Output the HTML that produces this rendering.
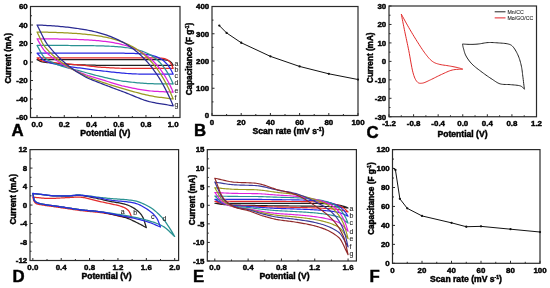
<!DOCTYPE html>
<html><head><meta charset="utf-8"><style>
html,body{margin:0;padding:0;background:#fff;width:550px;height:288px;overflow:hidden}
svg{display:block;filter:blur(0.3px)}
</style></head><body>
<svg width="550" height="288" viewBox="0 0 550 288">
<rect width="550" height="288" fill="#fff"/>
<rect x="30.50" y="6.50" width="149.50" height="111.00" fill="none" stroke="#2a2a2a" stroke-width="1.2"/>
<path d="M37.04 117.50v-2.5 M64.27 117.50v-2.5 M91.50 117.50v-2.5 M118.73 117.50v-2.5 M145.96 117.50v-2.5 M173.19 117.50v-2.5 M50.65 117.50v-1.5 M77.88 117.50v-1.5 M105.11 117.50v-1.5 M132.35 117.50v-1.5 M159.58 117.50v-1.5 M30.50 117.50h2.5 M30.50 99.00h2.5 M30.50 80.50h2.5 M30.50 62.00h2.5 M30.50 43.50h2.5 M30.50 25.00h2.5 M30.50 6.50h2.5 M30.50 108.25h1.5 M30.50 89.75h1.5 M30.50 71.25h1.5 M30.50 52.75h1.5 M30.50 34.25h1.5 M30.50 15.75h1.5" stroke="#2a2a2a" stroke-width="1" fill="none"/>
<text x="37.04" y="127.33" font-size="7.9" text-anchor="middle" font-weight="bold" font-family="Liberation Sans, sans-serif" stroke="#000" stroke-width="0.45">0.0</text>
<text x="64.27" y="127.33" font-size="7.9" text-anchor="middle" font-weight="bold" font-family="Liberation Sans, sans-serif" stroke="#000" stroke-width="0.45">0.2</text>
<text x="91.50" y="127.33" font-size="7.9" text-anchor="middle" font-weight="bold" font-family="Liberation Sans, sans-serif" stroke="#000" stroke-width="0.45">0.4</text>
<text x="118.73" y="127.33" font-size="7.9" text-anchor="middle" font-weight="bold" font-family="Liberation Sans, sans-serif" stroke="#000" stroke-width="0.45">0.6</text>
<text x="145.96" y="127.33" font-size="7.9" text-anchor="middle" font-weight="bold" font-family="Liberation Sans, sans-serif" stroke="#000" stroke-width="0.45">0.8</text>
<text x="173.19" y="127.33" font-size="7.9" text-anchor="middle" font-weight="bold" font-family="Liberation Sans, sans-serif" stroke="#000" stroke-width="0.45">1.0</text>
<text x="27.70" y="120.33" font-size="7.9" text-anchor="end" font-weight="bold" font-family="Liberation Sans, sans-serif" stroke="#000" stroke-width="0.45">-60</text>
<text x="27.70" y="101.83" font-size="7.9" text-anchor="end" font-weight="bold" font-family="Liberation Sans, sans-serif" stroke="#000" stroke-width="0.45">-40</text>
<text x="27.70" y="83.33" font-size="7.9" text-anchor="end" font-weight="bold" font-family="Liberation Sans, sans-serif" stroke="#000" stroke-width="0.45">-20</text>
<text x="27.70" y="64.83" font-size="7.9" text-anchor="end" font-weight="bold" font-family="Liberation Sans, sans-serif" stroke="#000" stroke-width="0.45">0</text>
<text x="27.70" y="46.33" font-size="7.9" text-anchor="end" font-weight="bold" font-family="Liberation Sans, sans-serif" stroke="#000" stroke-width="0.45">20</text>
<text x="27.70" y="27.83" font-size="7.9" text-anchor="end" font-weight="bold" font-family="Liberation Sans, sans-serif" stroke="#000" stroke-width="0.45">40</text>
<text x="27.70" y="9.33" font-size="7.9" text-anchor="end" font-weight="bold" font-family="Liberation Sans, sans-serif" stroke="#000" stroke-width="0.45">60</text>
<path d="M37.04 59.59 L38.74 59.59 L40.44 59.59 L42.14 59.59 L43.84 59.59 L45.55 59.59 L47.25 59.59 L48.95 59.59 L50.65 59.59 L52.35 59.59 L54.06 59.59 L55.76 59.59 L57.46 59.59 L59.16 59.59 L60.86 59.59 L62.56 59.59 L64.27 59.59 L65.97 59.59 L67.67 59.59 L69.37 59.59 L71.07 59.59 L72.78 59.59 L74.48 59.59 L76.18 59.60 L77.88 59.60 L79.58 59.60 L81.29 59.60 L82.99 59.60 L84.69 59.60 L86.39 59.60 L88.09 59.60 L89.80 59.60 L91.50 59.60 L93.20 59.60 L94.90 59.60 L96.60 59.60 L98.31 59.60 L100.01 59.60 L101.71 59.60 L103.41 59.60 L105.11 59.60 L106.82 59.60 L108.52 59.60 L110.22 59.60 L111.92 59.60 L113.62 59.60 L115.33 59.60 L117.03 59.60 L118.73 59.60 L120.43 59.60 L122.13 59.60 L123.84 59.60 L125.54 59.60 L127.24 59.60 L128.94 59.60 L130.64 59.60 L132.35 59.60 L134.05 59.60 L135.75 59.60 L137.45 59.60 L139.15 59.60 L140.85 59.60 L142.56 59.60 L144.26 59.60 L145.96 59.60 L147.66 59.60 L149.36 59.60 L151.07 59.60 L152.77 59.60 L154.47 59.60 L156.17 59.61 L157.87 59.62 L159.58 59.63 L161.28 59.67 L162.98 59.73 L164.68 59.85 L166.38 60.07 L168.09 60.47 L169.79 61.24 L171.49 62.66 L173.19 65.33 L171.49 65.33 L169.79 65.33 L168.09 65.33 L166.38 65.33 L164.68 65.33 L162.98 65.33 L161.28 65.33 L159.58 65.33 L157.87 65.33 L156.17 65.33 L154.47 65.33 L152.77 65.33 L151.07 65.33 L149.36 65.33 L147.66 65.33 L145.96 65.33 L144.26 65.33 L142.56 65.33 L140.85 65.33 L139.15 65.33 L137.45 65.33 L135.75 65.33 L134.05 65.33 L132.35 65.33 L130.64 65.33 L128.94 65.33 L127.24 65.33 L125.54 65.33 L123.84 65.33 L122.13 65.33 L120.43 65.33 L118.73 65.33 L117.03 65.33 L115.33 65.33 L113.62 65.33 L111.92 65.33 L110.22 65.33 L108.52 65.33 L106.82 65.33 L105.11 65.33 L103.41 65.33 L101.71 65.32 L100.01 65.30 L98.31 65.28 L96.60 65.26 L94.90 65.23 L93.20 65.20 L91.50 65.16 L89.80 65.12 L88.09 65.08 L86.39 65.03 L84.69 64.98 L82.99 64.93 L81.29 64.88 L79.58 64.83 L77.88 64.78 L76.18 64.72 L74.48 64.65 L72.78 64.58 L71.07 64.49 L69.37 64.40 L67.67 64.30 L65.97 64.19 L64.27 64.08 L62.56 63.96 L60.86 63.83 L59.16 63.69 L57.46 63.55 L55.76 63.40 L54.06 63.25 L52.35 63.09 L50.65 62.93 L48.95 62.75 L47.25 62.57 L45.55 62.35 L43.84 62.09 L42.14 61.77 L40.44 61.33 L38.74 60.50 L37.04 59.59Z" stroke="#222222" stroke-width="1.25" fill="none" stroke-linejoin="round"/>
<path d="M37.04 57.84 L38.74 57.84 L40.44 57.84 L42.14 57.84 L43.84 57.84 L45.55 57.84 L47.25 57.84 L48.95 57.84 L50.65 57.84 L52.35 57.84 L54.06 57.84 L55.76 57.84 L57.46 57.84 L59.16 57.84 L60.86 57.84 L62.56 57.84 L64.27 57.84 L65.97 57.84 L67.67 57.84 L69.37 57.84 L71.07 57.84 L72.78 57.84 L74.48 57.84 L76.18 57.84 L77.88 57.84 L79.58 57.84 L81.29 57.84 L82.99 57.84 L84.69 57.84 L86.39 57.84 L88.09 57.84 L89.80 57.84 L91.50 57.84 L93.20 57.84 L94.90 57.84 L96.60 57.84 L98.31 57.84 L100.01 57.84 L101.71 57.84 L103.41 57.84 L105.11 57.84 L106.82 57.84 L108.52 57.84 L110.22 57.84 L111.92 57.84 L113.62 57.84 L115.33 57.84 L117.03 57.84 L118.73 57.84 L120.43 57.84 L122.13 57.84 L123.84 57.84 L125.54 57.84 L127.24 57.84 L128.94 57.84 L130.64 57.84 L132.35 57.84 L134.05 57.84 L135.75 57.84 L137.45 57.84 L139.15 57.84 L140.85 57.84 L142.56 57.84 L144.26 57.84 L145.96 57.84 L147.66 57.84 L149.36 57.85 L151.07 57.85 L152.77 57.86 L154.47 57.88 L156.17 57.91 L157.87 57.96 L159.58 58.03 L161.28 58.16 L162.98 58.37 L164.68 58.71 L166.38 59.28 L168.09 60.21 L169.79 61.75 L171.49 64.29 L173.19 68.47 L171.49 68.47 L169.79 68.47 L168.09 68.47 L166.38 68.47 L164.68 68.47 L162.98 68.47 L161.28 68.47 L159.58 68.47 L157.87 68.47 L156.17 68.47 L154.47 68.47 L152.77 68.47 L151.07 68.47 L149.36 68.47 L147.66 68.47 L145.96 68.47 L144.26 68.47 L142.56 68.47 L140.85 68.47 L139.15 68.47 L137.45 68.47 L135.75 68.47 L134.05 68.47 L132.35 68.47 L130.64 68.47 L128.94 68.45 L127.24 68.43 L125.54 68.40 L123.84 68.36 L122.13 68.31 L120.43 68.25 L118.73 68.19 L117.03 68.12 L115.33 68.04 L113.62 67.96 L111.92 67.87 L110.22 67.78 L108.52 67.69 L106.82 67.59 L105.11 67.49 L103.41 67.39 L101.71 67.28 L100.01 67.18 L98.31 67.05 L96.60 66.89 L94.90 66.70 L93.20 66.50 L91.50 66.29 L89.80 66.07 L88.09 65.86 L86.39 65.65 L84.69 65.47 L82.99 65.30 L81.29 65.14 L79.58 64.99 L77.88 64.84 L76.18 64.69 L74.48 64.55 L72.78 64.41 L71.07 64.27 L69.37 64.13 L67.67 63.99 L65.97 63.85 L64.27 63.71 L62.56 63.55 L60.86 63.40 L59.16 63.23 L57.46 63.06 L55.76 62.88 L54.06 62.69 L52.35 62.49 L50.65 62.28 L48.95 62.06 L47.25 61.85 L45.55 61.60 L43.84 61.29 L42.14 60.90 L40.44 60.33 L38.74 59.15 L37.04 57.84Z" stroke="#e42a2a" stroke-width="1.25" fill="none" stroke-linejoin="round"/>
<path d="M37.04 53.12 L38.74 53.12 L40.44 53.12 L42.14 53.12 L43.84 53.12 L45.55 53.12 L47.25 53.12 L48.95 53.12 L50.65 53.12 L52.35 53.12 L54.06 53.12 L55.76 53.12 L57.46 53.12 L59.16 53.12 L60.86 53.12 L62.56 53.12 L64.27 53.12 L65.97 53.12 L67.67 53.12 L69.37 53.12 L71.07 53.12 L72.78 53.12 L74.48 53.12 L76.18 53.12 L77.88 53.12 L79.58 53.12 L81.29 53.12 L82.99 53.12 L84.69 53.12 L86.39 53.12 L88.09 53.12 L89.80 53.12 L91.50 53.12 L93.20 53.12 L94.90 53.13 L96.60 53.13 L98.31 53.13 L100.01 53.13 L101.71 53.13 L103.41 53.13 L105.11 53.14 L106.82 53.14 L108.52 53.14 L110.22 53.15 L111.92 53.15 L113.62 53.16 L115.33 53.17 L117.03 53.18 L118.73 53.19 L120.43 53.20 L122.13 53.22 L123.84 53.24 L125.54 53.26 L127.24 53.29 L128.94 53.32 L130.64 53.36 L132.35 53.41 L134.05 53.47 L135.75 53.53 L137.45 53.62 L139.15 53.71 L140.85 53.83 L142.56 53.97 L144.26 54.13 L145.96 54.33 L147.66 54.57 L149.36 54.85 L151.07 55.19 L152.77 55.59 L154.47 56.08 L156.17 56.66 L157.87 57.35 L159.58 58.17 L161.28 59.16 L162.98 60.34 L164.68 61.76 L166.38 63.44 L168.09 65.46 L169.79 67.88 L171.49 70.76 L173.19 74.21 L171.49 74.20 L169.79 74.19 L168.09 74.19 L166.38 74.18 L164.68 74.17 L162.98 74.16 L161.28 74.16 L159.58 74.15 L157.87 74.14 L156.17 74.14 L154.47 74.13 L152.77 74.12 L151.07 74.11 L149.36 74.10 L147.66 74.09 L145.96 74.08 L144.26 74.07 L142.56 74.06 L140.85 74.04 L139.15 74.03 L137.45 74.00 L135.75 73.95 L134.05 73.89 L132.35 73.81 L130.64 73.72 L128.94 73.62 L127.24 73.50 L125.54 73.36 L123.84 73.22 L122.13 73.07 L120.43 72.91 L118.73 72.74 L117.03 72.57 L115.33 72.39 L113.62 72.20 L111.92 72.01 L110.22 71.82 L108.52 71.63 L106.82 71.44 L105.11 71.25 L103.41 71.06 L101.71 70.87 L100.01 70.69 L98.31 70.50 L96.60 70.31 L94.90 70.10 L93.20 69.89 L91.50 69.66 L89.80 69.43 L88.09 69.19 L86.39 68.95 L84.69 68.69 L82.99 68.44 L81.29 68.21 L79.58 67.98 L77.88 67.76 L76.18 67.54 L74.48 67.32 L72.78 67.10 L71.07 66.88 L69.37 66.65 L67.67 66.41 L65.97 66.15 L64.27 65.88 L62.56 65.60 L60.86 65.29 L59.16 64.96 L57.46 64.60 L55.76 64.22 L54.06 63.80 L52.35 63.35 L50.65 62.87 L48.95 62.34 L47.25 61.77 L45.55 61.16 L43.84 60.31 L42.14 58.82 L40.44 56.95 L38.74 54.96 L37.04 53.12Z" stroke="#2a2ae2" stroke-width="1.25" fill="none" stroke-linejoin="round"/>
<path d="M37.04 45.44 L38.74 45.44 L40.44 45.44 L42.14 45.45 L43.84 45.45 L45.55 45.45 L47.25 45.45 L48.95 45.45 L50.65 45.45 L52.35 45.46 L54.06 45.46 L55.76 45.46 L57.46 45.47 L59.16 45.47 L60.86 45.47 L62.56 45.48 L64.27 45.48 L65.97 45.49 L67.67 45.49 L69.37 45.50 L71.07 45.51 L72.78 45.52 L74.48 45.52 L76.18 45.54 L77.88 45.55 L79.58 45.56 L81.29 45.57 L82.99 45.59 L84.69 45.60 L86.39 45.62 L88.09 45.64 L89.80 45.67 L91.50 45.69 L93.20 45.72 L94.90 45.75 L96.60 45.79 L98.31 45.83 L100.01 45.87 L101.71 45.92 L103.41 45.97 L105.11 46.03 L106.82 46.10 L108.52 46.17 L110.22 46.25 L111.92 46.34 L113.62 46.44 L115.33 46.55 L117.03 46.67 L118.73 46.81 L120.43 46.96 L122.13 47.13 L123.84 47.31 L125.54 47.52 L127.24 47.75 L128.94 48.00 L130.64 48.29 L132.35 48.60 L134.05 48.95 L135.75 49.33 L137.45 49.76 L139.15 50.24 L140.85 50.76 L142.56 51.35 L144.26 52.00 L145.96 52.72 L147.66 53.52 L149.36 54.41 L151.07 55.39 L152.77 56.49 L154.47 57.70 L156.17 59.05 L157.87 60.54 L159.58 62.20 L161.28 64.04 L162.98 66.08 L164.68 68.35 L166.38 70.87 L168.09 73.66 L169.79 76.76 L171.49 80.20 L173.19 84.02 L171.49 83.99 L169.79 83.97 L168.09 83.95 L166.38 83.94 L164.68 83.92 L162.98 83.90 L161.28 83.88 L159.58 83.86 L157.87 83.83 L156.17 83.80 L154.47 83.77 L152.77 83.74 L151.07 83.69 L149.36 83.63 L147.66 83.55 L145.96 83.45 L144.26 83.34 L142.56 83.22 L140.85 83.08 L139.15 82.93 L137.45 82.78 L135.75 82.61 L134.05 82.44 L132.35 82.25 L130.64 82.07 L128.94 81.87 L127.24 81.67 L125.54 81.47 L123.84 81.26 L122.13 81.02 L120.43 80.75 L118.73 80.46 L117.03 80.14 L115.33 79.81 L113.62 79.46 L111.92 79.09 L110.22 78.71 L108.52 78.32 L106.82 77.92 L105.11 77.52 L103.41 77.12 L101.71 76.72 L100.01 76.32 L98.31 75.92 L96.60 75.50 L94.90 75.07 L93.20 74.63 L91.50 74.18 L89.80 73.71 L88.09 73.23 L86.39 72.74 L84.69 72.24 L82.99 71.75 L81.29 71.29 L79.58 70.85 L77.88 70.42 L76.18 70.01 L74.48 69.59 L72.78 69.18 L71.07 68.76 L69.37 68.33 L67.67 67.88 L65.97 67.42 L64.27 66.93 L62.56 66.41 L60.86 65.86 L59.16 65.26 L57.46 64.63 L55.76 63.94 L54.06 63.20 L52.35 62.40 L50.65 61.54 L48.95 60.61 L47.25 59.61 L45.55 58.53 L43.84 57.07 L42.14 54.64 L40.44 51.61 L38.74 48.41 L37.04 45.44Z" stroke="#2a9292" stroke-width="1.25" fill="none" stroke-linejoin="round"/>
<path d="M37.04 38.78 L38.74 38.79 L40.44 38.81 L42.14 38.82 L43.84 38.83 L45.55 38.85 L47.25 38.87 L48.95 38.88 L50.65 38.90 L52.35 38.92 L54.06 38.94 L55.76 38.97 L57.46 38.99 L59.16 39.02 L60.86 39.05 L62.56 39.08 L64.27 39.12 L65.97 39.15 L67.67 39.19 L69.37 39.24 L71.07 39.28 L72.78 39.33 L74.48 39.39 L76.18 39.44 L77.88 39.50 L79.58 39.57 L81.29 39.64 L82.99 39.72 L84.69 39.80 L86.39 39.89 L88.09 39.99 L89.80 40.09 L91.50 40.20 L93.20 40.32 L94.90 40.45 L96.60 40.59 L98.31 40.74 L100.01 40.90 L101.71 41.07 L103.41 41.26 L105.11 41.46 L106.82 41.68 L108.52 41.91 L110.22 42.16 L111.92 42.43 L113.62 42.72 L115.33 43.03 L117.03 43.36 L118.73 43.72 L120.43 44.11 L122.13 44.53 L123.84 44.98 L125.54 45.46 L127.24 45.98 L128.94 46.54 L130.64 47.15 L132.35 47.80 L134.05 48.50 L135.75 49.25 L137.45 50.06 L139.15 50.93 L140.85 51.87 L142.56 52.88 L144.26 53.97 L145.96 55.14 L147.66 56.40 L149.36 57.75 L151.07 59.21 L152.77 60.78 L154.47 62.47 L156.17 64.29 L157.87 66.25 L159.58 68.35 L161.28 70.62 L162.98 73.06 L164.68 75.69 L166.38 78.52 L168.09 81.56 L169.79 84.84 L171.49 88.36 L173.19 92.16 L171.49 92.07 L169.79 92.00 L168.09 91.92 L166.38 91.85 L164.68 91.78 L162.98 91.71 L161.28 91.63 L159.58 91.55 L157.87 91.46 L156.17 91.37 L154.47 91.26 L152.77 91.14 L151.07 91.00 L149.36 90.83 L147.66 90.63 L145.96 90.42 L144.26 90.18 L142.56 89.92 L140.85 89.64 L139.15 89.34 L137.45 89.04 L135.75 88.71 L134.05 88.38 L132.35 88.04 L130.64 87.68 L128.94 87.33 L127.24 86.96 L125.54 86.60 L123.84 86.22 L122.13 85.82 L120.43 85.38 L118.73 84.92 L117.03 84.43 L115.33 83.93 L113.62 83.41 L111.92 82.87 L110.22 82.33 L108.52 81.78 L106.82 81.24 L105.11 80.69 L103.41 80.15 L101.71 79.61 L100.01 79.09 L98.31 78.59 L96.60 78.10 L94.90 77.62 L93.20 77.13 L91.50 76.63 L89.80 76.11 L88.09 75.56 L86.39 74.97 L84.69 74.33 L82.99 73.67 L81.29 73.00 L79.58 72.32 L77.88 71.63 L76.18 70.92 L74.48 70.19 L72.78 69.44 L71.07 68.66 L69.37 67.85 L67.67 67.00 L65.97 66.13 L64.27 65.21 L62.56 64.25 L60.86 63.25 L59.16 62.20 L57.46 61.10 L55.76 59.94 L54.06 58.73 L52.35 57.46 L50.65 56.13 L48.95 54.73 L47.25 53.26 L45.55 51.72 L43.84 49.91 L42.14 47.45 L40.44 44.58 L38.74 41.60 L37.04 38.78Z" stroke="#dd22dd" stroke-width="1.25" fill="none" stroke-linejoin="round"/>
<path d="M37.04 32.03 L38.74 32.06 L40.44 32.09 L42.14 32.12 L43.84 32.16 L45.55 32.20 L47.25 32.24 L48.95 32.28 L50.65 32.32 L52.35 32.37 L54.06 32.42 L55.76 32.48 L57.46 32.54 L59.16 32.60 L60.86 32.67 L62.56 32.74 L64.27 32.81 L65.97 32.89 L67.67 32.98 L69.37 33.07 L71.07 33.16 L72.78 33.26 L74.48 33.37 L76.18 33.49 L77.88 33.61 L79.58 33.74 L81.29 33.88 L82.99 34.03 L84.69 34.19 L86.39 34.36 L88.09 34.54 L89.80 34.73 L91.50 34.93 L93.20 35.15 L94.90 35.38 L96.60 35.62 L98.31 35.89 L100.01 36.16 L101.71 36.46 L103.41 36.77 L105.11 37.11 L106.82 37.47 L108.52 37.85 L110.22 38.25 L111.92 38.68 L113.62 39.14 L115.33 39.63 L117.03 40.15 L118.73 40.70 L120.43 41.29 L122.13 41.92 L123.84 42.58 L125.54 43.29 L127.24 44.05 L128.94 44.85 L130.64 45.71 L132.35 46.62 L134.05 47.59 L135.75 48.62 L137.45 49.72 L139.15 50.89 L140.85 52.14 L142.56 53.47 L144.26 54.88 L145.96 56.38 L147.66 57.98 L149.36 59.68 L151.07 61.50 L152.77 63.42 L154.47 65.48 L156.17 67.67 L157.87 69.99 L159.58 72.47 L161.28 75.11 L162.98 77.92 L164.68 80.90 L166.38 84.09 L168.09 87.47 L169.79 91.08 L171.49 94.91 L173.19 99.00 L171.49 98.77 L169.79 98.56 L168.09 98.34 L166.38 98.13 L164.68 97.92 L162.98 97.71 L161.28 97.49 L159.58 97.26 L157.87 97.03 L156.17 96.78 L154.47 96.51 L152.77 96.22 L151.07 95.92 L149.36 95.58 L147.66 95.23 L145.96 94.85 L144.26 94.46 L142.56 94.04 L140.85 93.62 L139.15 93.18 L137.45 92.72 L135.75 92.26 L134.05 91.79 L132.35 91.32 L130.64 90.84 L128.94 90.36 L127.24 89.88 L125.54 89.40 L123.84 88.92 L122.13 88.44 L120.43 87.94 L118.73 87.44 L117.03 86.93 L115.33 86.42 L113.62 85.89 L111.92 85.36 L110.22 84.81 L108.52 84.27 L106.82 83.71 L105.11 83.14 L103.41 82.57 L101.71 81.99 L100.01 81.40 L98.31 80.81 L96.60 80.23 L94.90 79.63 L93.20 79.02 L91.50 78.39 L89.80 77.73 L88.09 77.03 L86.39 76.29 L84.69 75.50 L82.99 74.68 L81.29 73.85 L79.58 73.01 L77.88 72.15 L76.18 71.27 L74.48 70.37 L72.78 69.43 L71.07 68.47 L69.37 67.47 L67.67 66.43 L65.97 65.34 L64.27 64.21 L62.56 63.03 L60.86 61.80 L59.16 60.51 L57.46 59.15 L55.76 57.73 L54.06 56.25 L52.35 54.69 L50.65 53.05 L48.95 51.34 L47.25 49.54 L45.55 47.65 L43.84 45.45 L42.14 42.47 L40.44 39.02 L38.74 35.43 L37.04 32.03Z" stroke="#9a9a20" stroke-width="1.25" fill="none" stroke-linejoin="round"/>
<path d="M37.04 25.00 L38.74 25.08 L40.44 25.16 L42.14 25.24 L43.84 25.33 L45.55 25.43 L47.25 25.53 L48.95 25.63 L50.65 25.74 L52.35 25.86 L54.06 25.98 L55.76 26.11 L57.46 26.24 L59.16 26.38 L60.86 26.53 L62.56 26.68 L64.27 26.85 L65.97 27.02 L67.67 27.20 L69.37 27.39 L71.07 27.59 L72.78 27.80 L74.48 28.02 L76.18 28.26 L77.88 28.50 L79.58 28.76 L81.29 29.03 L82.99 29.31 L84.69 29.61 L86.39 29.92 L88.09 30.25 L89.80 30.60 L91.50 30.96 L93.20 31.35 L94.90 31.75 L96.60 32.17 L98.31 32.62 L100.01 33.08 L101.71 33.58 L103.41 34.09 L105.11 34.64 L106.82 35.21 L108.52 35.81 L110.22 36.44 L111.92 37.10 L113.62 37.80 L115.33 38.54 L117.03 39.31 L118.73 40.12 L120.43 40.97 L122.13 41.87 L123.84 42.81 L125.54 43.80 L127.24 44.84 L128.94 45.94 L130.64 47.09 L132.35 48.30 L134.05 49.57 L135.75 50.90 L137.45 52.31 L139.15 53.79 L140.85 55.34 L142.56 56.97 L144.26 58.69 L145.96 60.50 L147.66 62.39 L149.36 64.39 L151.07 66.48 L152.77 68.69 L154.47 71.01 L156.17 73.44 L157.87 76.00 L159.58 78.69 L161.28 81.53 L162.98 84.50 L164.68 87.63 L166.38 90.92 L168.09 94.37 L169.79 98.01 L171.49 101.83 L173.19 105.84 L171.49 105.55 L169.79 105.27 L168.09 105.00 L166.38 104.74 L164.68 104.47 L162.98 104.20 L161.28 103.93 L159.58 103.65 L157.87 103.36 L156.17 103.06 L154.47 102.73 L152.77 102.38 L151.07 102.01 L149.36 101.61 L147.66 101.15 L145.96 100.64 L144.26 100.09 L142.56 99.49 L140.85 98.86 L139.15 98.20 L137.45 97.53 L135.75 96.83 L134.05 96.13 L132.35 95.42 L130.64 94.71 L128.94 94.02 L127.24 93.34 L125.54 92.68 L123.84 92.04 L122.13 91.40 L120.43 90.77 L118.73 90.13 L117.03 89.50 L115.33 88.86 L113.62 88.22 L111.92 87.58 L110.22 86.94 L108.52 86.29 L106.82 85.64 L105.11 84.98 L103.41 84.32 L101.71 83.65 L100.01 82.97 L98.31 82.30 L96.60 81.65 L94.90 81.00 L93.20 80.35 L91.50 79.67 L89.80 78.96 L88.09 78.20 L86.39 77.38 L84.69 76.49 L82.99 75.55 L81.29 74.57 L79.58 73.55 L77.88 72.50 L76.18 71.40 L74.48 70.25 L72.78 69.06 L71.07 67.82 L69.37 66.53 L67.67 65.18 L65.97 63.79 L64.27 62.33 L62.56 60.82 L60.86 59.25 L59.16 57.61 L57.46 55.92 L55.76 54.15 L54.06 52.32 L52.35 50.43 L50.65 48.46 L48.95 46.41 L47.25 44.27 L45.55 41.66 L43.84 38.60 L42.14 35.25 L40.44 31.77 L38.74 28.30 L37.04 25.00Z" stroke="#2a2a92" stroke-width="1.25" fill="none" stroke-linejoin="round"/>
<text x="174.50" y="65.86" font-size="7" font-family="Liberation Sans, sans-serif" fill="#222" stroke="#222" stroke-width="0.1">a</text>
<text x="174.50" y="72.36" font-size="7" font-family="Liberation Sans, sans-serif" fill="#222" stroke="#222" stroke-width="0.1">b</text>
<text x="174.50" y="78.26" font-size="7" font-family="Liberation Sans, sans-serif" fill="#222" stroke="#222" stroke-width="0.1">c</text>
<text x="174.50" y="85.26" font-size="7" font-family="Liberation Sans, sans-serif" fill="#222" stroke="#222" stroke-width="0.1">d</text>
<text x="174.50" y="92.95" font-size="7" font-family="Liberation Sans, sans-serif" fill="#222" stroke="#222" stroke-width="0.1">e</text>
<text x="174.50" y="100.45" font-size="7" font-family="Liberation Sans, sans-serif" fill="#222" stroke="#222" stroke-width="0.1">f</text>
<text x="174.50" y="106.95" font-size="7" font-family="Liberation Sans, sans-serif" fill="#222" stroke="#222" stroke-width="0.1">g</text>
<text transform="translate(8.20 58.30) rotate(-90)" x="0" y="2.94" font-size="8.2" text-anchor="middle" font-weight="bold" font-family="Liberation Sans, sans-serif" stroke="#000" stroke-width="0.45">Current (mA)</text>
<text x="105.30" y="135.68" font-size="8.6" text-anchor="middle" font-weight="bold" font-family="Liberation Sans, sans-serif" stroke="#000" stroke-width="0.45">Potential (V)</text>
<text x="11.50" y="136.00" font-size="16.8" font-weight="bold" font-family="Liberation Sans, sans-serif" stroke="#000" stroke-width="0.45">A</text>
<rect x="212.00" y="6.50" width="146.00" height="109.00" fill="none" stroke="#2a2a2a" stroke-width="1.2"/>
<path d="M212.00 115.50v-2.5 M241.20 115.50v-2.5 M270.40 115.50v-2.5 M299.60 115.50v-2.5 M328.80 115.50v-2.5 M358.00 115.50v-2.5 M226.60 115.50v-1.5 M255.80 115.50v-1.5 M285.00 115.50v-1.5 M314.20 115.50v-1.5 M343.40 115.50v-1.5 M212.00 115.50h2.5 M212.00 88.25h2.5 M212.00 61.00h2.5 M212.00 33.75h2.5 M212.00 6.50h2.5 M212.00 101.88h1.5 M212.00 74.62h1.5 M212.00 47.38h1.5 M212.00 20.12h1.5" stroke="#2a2a2a" stroke-width="1" fill="none"/>
<text x="212.00" y="125.33" font-size="7.9" text-anchor="middle" font-weight="bold" font-family="Liberation Sans, sans-serif" stroke="#000" stroke-width="0.45">0</text>
<text x="241.20" y="125.33" font-size="7.9" text-anchor="middle" font-weight="bold" font-family="Liberation Sans, sans-serif" stroke="#000" stroke-width="0.45">20</text>
<text x="270.40" y="125.33" font-size="7.9" text-anchor="middle" font-weight="bold" font-family="Liberation Sans, sans-serif" stroke="#000" stroke-width="0.45">40</text>
<text x="299.60" y="125.33" font-size="7.9" text-anchor="middle" font-weight="bold" font-family="Liberation Sans, sans-serif" stroke="#000" stroke-width="0.45">60</text>
<text x="328.80" y="125.33" font-size="7.9" text-anchor="middle" font-weight="bold" font-family="Liberation Sans, sans-serif" stroke="#000" stroke-width="0.45">80</text>
<text x="358.00" y="125.33" font-size="7.9" text-anchor="middle" font-weight="bold" font-family="Liberation Sans, sans-serif" stroke="#000" stroke-width="0.45">100</text>
<text x="209.20" y="118.33" font-size="7.9" text-anchor="end" font-weight="bold" font-family="Liberation Sans, sans-serif" stroke="#000" stroke-width="0.45">0</text>
<text x="209.20" y="91.08" font-size="7.9" text-anchor="end" font-weight="bold" font-family="Liberation Sans, sans-serif" stroke="#000" stroke-width="0.45">100</text>
<text x="209.20" y="63.83" font-size="7.9" text-anchor="end" font-weight="bold" font-family="Liberation Sans, sans-serif" stroke="#000" stroke-width="0.45">200</text>
<text x="209.20" y="36.58" font-size="7.9" text-anchor="end" font-weight="bold" font-family="Liberation Sans, sans-serif" stroke="#000" stroke-width="0.45">300</text>
<text x="209.20" y="9.33" font-size="7.9" text-anchor="end" font-weight="bold" font-family="Liberation Sans, sans-serif" stroke="#000" stroke-width="0.45">400</text>
<path d="M219.30 25.58 L226.60 32.93 L241.20 42.74 L270.40 56.37 L299.60 66.45 L328.80 73.81 L358.00 79.53" stroke="#111" stroke-width="1.0" fill="none" stroke-linejoin="round"/>
<circle cx="219.30" cy="25.58" r="1.15" fill="#111"/>
<circle cx="226.60" cy="32.93" r="1.15" fill="#111"/>
<circle cx="241.20" cy="42.74" r="1.15" fill="#111"/>
<circle cx="270.40" cy="56.37" r="1.15" fill="#111"/>
<circle cx="299.60" cy="66.45" r="1.15" fill="#111"/>
<circle cx="328.80" cy="73.81" r="1.15" fill="#111"/>
<circle cx="358.00" cy="79.53" r="1.15" fill="#111"/>
<text transform="translate(188.60 59.00) rotate(-90)" x="0" y="2.94" font-size="8.2" text-anchor="middle" font-weight="bold" font-family="Liberation Sans, sans-serif" stroke="#000" stroke-width="0.45">Capacitance (F g<tspan font-size="5" dy="-3">-1</tspan><tspan dy="3">)</tspan></text>
<text x="288.40" y="134.28" font-size="8.6" text-anchor="middle" font-weight="bold" font-family="Liberation Sans, sans-serif" stroke="#000" stroke-width="0.45">Scan rate (mV s<tspan font-size="5" dy="-3">-1</tspan><tspan dy="3">)</tspan></text>
<text x="194.00" y="136.00" font-size="16.8" font-weight="bold" font-family="Liberation Sans, sans-serif" stroke="#000" stroke-width="0.45">B</text>
<rect x="389.00" y="6.00" width="147.50" height="110.75" fill="none" stroke="#2a2a2a" stroke-width="1.2"/>
<path d="M389.00 116.75v-2.5 M413.58 116.75v-2.5 M438.17 116.75v-2.5 M462.75 116.75v-2.5 M487.33 116.75v-2.5 M511.92 116.75v-2.5 M536.50 116.75v-2.5 M401.29 116.75v-1.5 M425.88 116.75v-1.5 M450.46 116.75v-1.5 M475.04 116.75v-1.5 M499.62 116.75v-1.5 M524.21 116.75v-1.5 M389.00 116.75h2.5 M389.00 98.29h2.5 M389.00 79.83h2.5 M389.00 61.38h2.5 M389.00 42.92h2.5 M389.00 24.46h2.5 M389.00 6.00h2.5 M389.00 107.52h1.5 M389.00 89.06h1.5 M389.00 70.60h1.5 M389.00 52.15h1.5 M389.00 33.69h1.5 M389.00 15.23h1.5" stroke="#2a2a2a" stroke-width="1" fill="none"/>
<text x="389.00" y="125.78" font-size="7.9" text-anchor="middle" font-weight="bold" font-family="Liberation Sans, sans-serif" stroke="#000" stroke-width="0.45">-1.2</text>
<text x="413.58" y="125.78" font-size="7.9" text-anchor="middle" font-weight="bold" font-family="Liberation Sans, sans-serif" stroke="#000" stroke-width="0.45">-0.8</text>
<text x="438.17" y="125.78" font-size="7.9" text-anchor="middle" font-weight="bold" font-family="Liberation Sans, sans-serif" stroke="#000" stroke-width="0.45">-0.4</text>
<text x="462.75" y="125.78" font-size="7.9" text-anchor="middle" font-weight="bold" font-family="Liberation Sans, sans-serif" stroke="#000" stroke-width="0.45">0.0</text>
<text x="487.33" y="125.78" font-size="7.9" text-anchor="middle" font-weight="bold" font-family="Liberation Sans, sans-serif" stroke="#000" stroke-width="0.45">0.4</text>
<text x="511.92" y="125.78" font-size="7.9" text-anchor="middle" font-weight="bold" font-family="Liberation Sans, sans-serif" stroke="#000" stroke-width="0.45">0.8</text>
<text x="536.50" y="125.78" font-size="7.9" text-anchor="middle" font-weight="bold" font-family="Liberation Sans, sans-serif" stroke="#000" stroke-width="0.45">1.2</text>
<text x="386.20" y="119.58" font-size="7.9" text-anchor="end" font-weight="bold" font-family="Liberation Sans, sans-serif" stroke="#000" stroke-width="0.45">-30</text>
<text x="386.20" y="101.12" font-size="7.9" text-anchor="end" font-weight="bold" font-family="Liberation Sans, sans-serif" stroke="#000" stroke-width="0.45">-20</text>
<text x="386.20" y="82.66" font-size="7.9" text-anchor="end" font-weight="bold" font-family="Liberation Sans, sans-serif" stroke="#000" stroke-width="0.45">-10</text>
<text x="386.20" y="64.20" font-size="7.9" text-anchor="end" font-weight="bold" font-family="Liberation Sans, sans-serif" stroke="#000" stroke-width="0.45">0</text>
<text x="386.20" y="45.74" font-size="7.9" text-anchor="end" font-weight="bold" font-family="Liberation Sans, sans-serif" stroke="#000" stroke-width="0.45">10</text>
<text x="386.20" y="27.29" font-size="7.9" text-anchor="end" font-weight="bold" font-family="Liberation Sans, sans-serif" stroke="#000" stroke-width="0.45">20</text>
<text x="386.20" y="8.83" font-size="7.9" text-anchor="end" font-weight="bold" font-family="Liberation Sans, sans-serif" stroke="#000" stroke-width="0.45">30</text>
<path d="M401.29 14.12 L401.87 15.16 L402.62 16.54 L403.52 18.18 L404.53 20.01 L405.59 21.94 L406.69 23.90 L407.77 25.81 L408.79 27.60 L409.78 29.30 L410.80 31.03 L411.83 32.77 L412.87 34.51 L413.91 36.23 L414.96 37.94 L416.00 39.62 L417.02 41.26 L418.05 42.88 L419.09 44.51 L420.14 46.13 L421.17 47.73 L422.20 49.27 L423.21 50.75 L424.19 52.15 L425.14 53.44 L426.05 54.64 L426.92 55.76 L427.77 56.81 L428.60 57.79 L429.42 58.70 L430.24 59.53 L431.06 60.30 L431.90 61.01 L432.72 61.62 L433.49 62.13 L434.25 62.56 L435.02 62.93 L435.83 63.26 L436.68 63.55 L437.62 63.84 L438.66 64.14 L439.83 64.44 L441.13 64.70 L442.53 64.94 L443.97 65.16 L445.42 65.37 L446.85 65.57 L448.21 65.78 L449.48 65.99 L450.66 66.21 L451.82 66.42 L452.94 66.63 L454.02 66.84 L455.06 67.05 L456.04 67.25 L456.97 67.45 L457.83 67.65 L458.65 67.85 L459.42 68.07 L460.15 68.28 L460.81 68.49 L461.42 68.69 L461.95 68.87 L462.39 69.01 L462.75 69.13 L461.94 69.17 L460.85 69.21 L459.57 69.25 L458.14 69.31 L456.62 69.41 L455.08 69.55 L453.58 69.76 L452.18 70.05 L450.84 70.43 L449.51 70.89 L448.17 71.41 L446.82 71.99 L445.48 72.60 L444.13 73.23 L442.78 73.86 L441.42 74.48 L440.05 75.12 L438.64 75.80 L437.21 76.51 L435.79 77.23 L434.39 77.93 L433.02 78.62 L431.72 79.26 L430.48 79.83 L429.32 80.38 L428.19 80.92 L427.11 81.44 L426.08 81.92 L425.09 82.35 L424.14 82.71 L423.23 82.98 L422.37 83.16 L421.56 83.26 L420.81 83.31 L420.11 83.30 L419.45 83.21 L418.82 83.03 L418.21 82.72 L417.62 82.28 L417.02 81.68 L416.45 80.97 L415.91 80.17 L415.39 79.27 L414.89 78.23 L414.40 77.04 L413.91 75.66 L413.41 74.08 L412.91 72.27 L412.39 70.13 L411.87 67.66 L411.36 64.95 L410.84 62.07 L410.32 59.11 L409.81 56.17 L409.30 53.33 L408.79 50.67 L408.28 48.16 L407.77 45.70 L407.26 43.29 L406.75 40.91 L406.25 38.56 L405.76 36.25 L405.27 33.95 L404.79 31.66 L404.31 29.27 L403.80 26.76 L403.29 24.20 L402.79 21.70 L402.33 19.35 L401.91 17.24 L401.56 15.46 L401.29 14.12" stroke="#e22a2a" stroke-width="1.0" fill="none" stroke-linejoin="round"/>
<path d="M462.44 44.02 L463.03 44.06 L463.82 44.11 L464.75 44.17 L465.78 44.23 L466.88 44.29 L468.00 44.34 L469.10 44.38 L470.12 44.39 L471.09 44.39 L472.05 44.38 L473.01 44.36 L473.97 44.32 L474.95 44.28 L475.96 44.21 L477.01 44.13 L478.11 44.02 L479.27 43.88 L480.49 43.69 L481.74 43.47 L483.03 43.24 L484.33 43.01 L485.63 42.81 L486.92 42.65 L488.19 42.55 L489.45 42.50 L490.70 42.49 L491.95 42.52 L493.20 42.57 L494.45 42.64 L495.70 42.73 L496.96 42.82 L498.21 42.92 L499.50 43.01 L500.85 43.09 L502.21 43.19 L503.56 43.30 L504.88 43.43 L506.12 43.59 L507.27 43.78 L508.29 44.02 L509.16 44.28 L509.90 44.53 L510.55 44.80 L511.13 45.11 L511.66 45.48 L512.19 45.93 L512.73 46.48 L513.33 47.16 L513.97 47.99 L514.64 48.94 L515.31 50.01 L515.98 51.15 L516.63 52.35 L517.25 53.58 L517.84 54.81 L518.37 56.02 L518.85 57.23 L519.30 58.47 L519.72 59.74 L520.10 61.03 L520.46 62.32 L520.79 63.62 L521.10 64.91 L521.38 66.17 L521.63 67.41 L521.84 68.61 L522.02 69.79 L522.18 70.97 L522.32 72.18 L522.47 73.43 L522.62 74.75 L522.79 76.14 L523.00 77.72 L523.22 79.50 L523.45 81.40 L523.68 83.32 L523.90 85.15 L524.10 86.82 L524.27 88.21 L524.39 89.25 L524.13 88.98 L523.82 88.60 L523.45 88.16 L523.03 87.67 L522.52 87.17 L521.92 86.69 L521.22 86.27 L520.40 85.92 L519.43 85.66 L518.31 85.45 L517.06 85.27 L515.74 85.12 L514.37 84.99 L512.98 84.87 L511.62 84.75 L510.32 84.63 L509.04 84.54 L507.75 84.50 L506.45 84.49 L505.15 84.47 L503.87 84.43 L502.62 84.34 L501.40 84.17 L500.24 83.89 L499.15 83.52 L498.13 83.07 L497.16 82.55 L496.21 81.98 L495.27 81.36 L494.30 80.69 L493.28 80.00 L492.19 79.28 L491.03 78.53 L489.81 77.72 L488.55 76.87 L487.27 75.99 L485.97 75.08 L484.67 74.15 L483.38 73.21 L482.11 72.27 L480.83 71.30 L479.51 70.31 L478.17 69.30 L476.85 68.27 L475.55 67.24 L474.31 66.20 L473.15 65.17 L472.09 64.14 L471.12 63.12 L470.22 62.09 L469.38 61.05 L468.61 60.01 L467.89 58.99 L467.23 57.97 L466.62 56.98 L466.07 56.02 L465.58 55.08 L465.17 54.14 L464.83 53.22 L464.54 52.32 L464.28 51.44 L464.05 50.59 L463.83 49.78 L463.61 49.01 L463.39 48.25 L463.20 47.50 L463.03 46.77 L462.87 46.08 L462.74 45.44 L462.62 44.87 L462.52 44.39 L462.44 44.02" stroke="#222222" stroke-width="1.0" fill="none" stroke-linejoin="round"/>
<path d="M494.7 11.8H505.5" stroke="#222" stroke-width="1"/>
<path d="M494.7 17.9H505.5" stroke="#e3232a" stroke-width="1"/>
<text x="507.50" y="13.78" font-size="5.2" font-family="Liberation Sans, sans-serif" fill="#222" stroke="#222" stroke-width="0.08">Mn/CC</text>
<text x="507.50" y="19.88" font-size="5.2" font-family="Liberation Sans, sans-serif" fill="#222" stroke="#222" stroke-width="0.08">Mo/GO/CC</text>
<text transform="translate(370.50 57.70) rotate(-90)" x="0" y="2.94" font-size="8.2" text-anchor="middle" font-weight="bold" font-family="Liberation Sans, sans-serif" stroke="#000" stroke-width="0.45">Current (mA)</text>
<text x="462.50" y="136.98" font-size="8.6" text-anchor="middle" font-weight="bold" font-family="Liberation Sans, sans-serif" stroke="#000" stroke-width="0.45">Potential (V)</text>
<text x="366.50" y="138.00" font-size="16.8" font-weight="bold" font-family="Liberation Sans, sans-serif" stroke="#000" stroke-width="0.45">C</text>
<rect x="30.00" y="149.60" width="148.60" height="110.90" fill="none" stroke="#2a2a2a" stroke-width="1.2"/>
<path d="M32.84 260.50v-2.5 M61.21 260.50v-2.5 M89.58 260.50v-2.5 M117.95 260.50v-2.5 M146.33 260.50v-2.5 M174.70 260.50v-2.5 M47.02 260.50v-1.5 M75.40 260.50v-1.5 M103.77 260.50v-1.5 M132.14 260.50v-1.5 M160.51 260.50v-1.5 M30.00 260.50h2.5 M30.00 242.02h2.5 M30.00 223.53h2.5 M30.00 205.05h2.5 M30.00 186.57h2.5 M30.00 168.08h2.5 M30.00 149.60h2.5 M30.00 251.26h1.5 M30.00 232.78h1.5 M30.00 214.29h1.5 M30.00 195.81h1.5 M30.00 177.32h1.5 M30.00 158.84h1.5" stroke="#2a2a2a" stroke-width="1" fill="none"/>
<text x="32.84" y="269.83" font-size="7.9" text-anchor="middle" font-weight="bold" font-family="Liberation Sans, sans-serif" stroke="#000" stroke-width="0.45">0.0</text>
<text x="61.21" y="269.83" font-size="7.9" text-anchor="middle" font-weight="bold" font-family="Liberation Sans, sans-serif" stroke="#000" stroke-width="0.45">0.4</text>
<text x="89.58" y="269.83" font-size="7.9" text-anchor="middle" font-weight="bold" font-family="Liberation Sans, sans-serif" stroke="#000" stroke-width="0.45">0.8</text>
<text x="117.95" y="269.83" font-size="7.9" text-anchor="middle" font-weight="bold" font-family="Liberation Sans, sans-serif" stroke="#000" stroke-width="0.45">1.2</text>
<text x="146.33" y="269.83" font-size="7.9" text-anchor="middle" font-weight="bold" font-family="Liberation Sans, sans-serif" stroke="#000" stroke-width="0.45">1.6</text>
<text x="174.70" y="269.83" font-size="7.9" text-anchor="middle" font-weight="bold" font-family="Liberation Sans, sans-serif" stroke="#000" stroke-width="0.45">2.0</text>
<text x="27.20" y="263.33" font-size="7.9" text-anchor="end" font-weight="bold" font-family="Liberation Sans, sans-serif" stroke="#000" stroke-width="0.45">-12</text>
<text x="27.20" y="244.84" font-size="7.9" text-anchor="end" font-weight="bold" font-family="Liberation Sans, sans-serif" stroke="#000" stroke-width="0.45">-8</text>
<text x="27.20" y="226.36" font-size="7.9" text-anchor="end" font-weight="bold" font-family="Liberation Sans, sans-serif" stroke="#000" stroke-width="0.45">-4</text>
<text x="27.20" y="207.88" font-size="7.9" text-anchor="end" font-weight="bold" font-family="Liberation Sans, sans-serif" stroke="#000" stroke-width="0.45">0</text>
<text x="27.20" y="189.39" font-size="7.9" text-anchor="end" font-weight="bold" font-family="Liberation Sans, sans-serif" stroke="#000" stroke-width="0.45">4</text>
<text x="27.20" y="170.91" font-size="7.9" text-anchor="end" font-weight="bold" font-family="Liberation Sans, sans-serif" stroke="#000" stroke-width="0.45">8</text>
<text x="27.20" y="152.43" font-size="7.9" text-anchor="end" font-weight="bold" font-family="Liberation Sans, sans-serif" stroke="#000" stroke-width="0.45">12</text>
<path d="M32.84 197.15 L33.83 197.23 L34.82 197.32 L35.81 197.42 L36.80 197.52 L37.79 197.62 L38.78 197.73 L39.77 197.83 L40.76 197.93 L41.75 198.03 L42.74 198.12 L43.73 198.20 L44.72 198.28 L45.71 198.34 L46.70 198.39 L47.69 198.42 L48.68 198.44 L49.67 198.44 L50.66 198.43 L51.65 198.41 L52.64 198.39 L53.63 198.36 L54.62 198.32 L55.61 198.27 L56.60 198.22 L57.59 198.17 L58.58 198.12 L59.57 198.06 L60.56 198.00 L61.55 197.94 L62.54 197.88 L63.53 197.82 L64.52 197.76 L65.51 197.70 L66.50 197.65 L67.49 197.60 L68.48 197.56 L69.47 197.51 L70.46 197.46 L71.45 197.40 L72.44 197.35 L73.44 197.29 L74.43 197.25 L75.42 197.20 L76.41 197.17 L77.40 197.15 L78.39 197.15 L79.38 197.17 L80.37 197.23 L81.36 197.31 L82.35 197.43 L83.34 197.57 L84.33 197.74 L85.32 197.92 L86.31 198.13 L87.30 198.35 L88.29 198.58 L89.28 198.83 L90.27 199.08 L91.26 199.34 L92.25 199.61 L93.24 199.88 L94.23 200.14 L95.22 200.41 L96.21 200.66 L97.20 200.91 L98.19 201.15 L99.18 201.38 L100.17 201.59 L101.16 201.79 L102.15 202.00 L103.14 202.20 L104.13 202.40 L105.12 202.61 L106.11 202.82 L107.10 203.03 L108.09 203.25 L109.08 203.47 L110.07 203.69 L111.06 203.92 L112.05 204.13 L113.04 204.34 L114.03 204.55 L115.02 204.76 L116.01 204.98 L117.00 205.21 L117.99 205.46 L118.98 205.72 L119.97 206.01 L120.96 206.32 L121.95 206.67 L122.94 207.04 L123.94 207.45 L124.93 207.92 L125.92 208.47 L126.91 209.14 L127.90 209.94 L128.89 210.95 L129.88 212.84 L130.87 215.31 L131.86 217.71 L130.87 217.65 L129.88 217.59 L128.89 217.53 L127.90 217.47 L126.91 217.39 L125.92 217.31 L124.93 217.21 L123.94 217.07 L122.94 216.91 L121.95 216.74 L120.96 216.54 L119.97 216.32 L118.98 216.10 L117.99 215.87 L117.00 215.63 L116.01 215.39 L115.02 215.15 L114.03 214.91 L113.04 214.69 L112.05 214.47 L111.06 214.27 L110.07 214.08 L109.08 213.91 L108.09 213.75 L107.10 213.58 L106.11 213.42 L105.12 213.27 L104.13 213.12 L103.14 212.97 L102.15 212.83 L101.16 212.69 L100.17 212.57 L99.18 212.44 L98.19 212.33 L97.20 212.22 L96.21 212.11 L95.22 212.01 L94.23 211.91 L93.24 211.81 L92.25 211.72 L91.26 211.63 L90.27 211.53 L89.28 211.44 L88.29 211.35 L87.30 211.26 L86.31 211.16 L85.32 211.06 L84.33 210.96 L83.34 210.86 L82.35 210.75 L81.36 210.63 L80.37 210.51 L79.38 210.38 L78.39 210.25 L77.40 210.11 L76.41 209.96 L75.42 209.82 L74.43 209.67 L73.44 209.52 L72.44 209.37 L71.45 209.22 L70.46 209.07 L69.47 208.92 L68.48 208.77 L67.49 208.63 L66.50 208.49 L65.51 208.34 L64.52 208.20 L63.53 208.06 L62.54 207.91 L61.55 207.77 L60.56 207.62 L59.57 207.48 L58.58 207.34 L57.59 207.19 L56.60 207.05 L55.61 206.91 L54.62 206.77 L53.63 206.63 L52.64 206.50 L51.65 206.37 L50.66 206.24 L49.67 206.11 L48.68 205.98 L47.69 205.84 L46.70 205.70 L45.71 205.55 L44.72 205.40 L43.73 205.24 L42.74 205.07 L41.75 204.90 L40.76 204.75 L39.77 204.58 L38.78 204.39 L37.79 204.14 L36.80 203.82 L35.81 203.36 L34.82 202.47 L33.83 200.98 L32.84 197.15Z" stroke="#e42a2a" stroke-width="1.25" fill="none" stroke-linejoin="round"/>
<path d="M32.84 193.50 L33.97 193.63 L35.11 193.77 L36.24 193.91 L37.38 194.04 L38.51 194.18 L39.65 194.31 L40.78 194.45 L41.92 194.58 L43.05 194.70 L44.19 194.83 L45.32 194.98 L46.46 195.12 L47.59 195.27 L48.73 195.41 L49.86 195.54 L51.00 195.67 L52.13 195.77 L53.27 195.86 L54.40 195.92 L55.54 195.95 L56.67 195.96 L57.80 195.98 L58.94 195.99 L60.07 196.00 L61.21 196.01 L62.34 196.02 L63.48 196.03 L64.61 196.03 L65.75 196.04 L66.88 196.04 L68.02 196.04 L69.15 196.02 L70.29 195.97 L71.42 195.88 L72.56 195.77 L73.69 195.65 L74.83 195.53 L75.96 195.44 L77.10 195.37 L78.23 195.35 L79.37 195.38 L80.50 195.46 L81.64 195.58 L82.77 195.74 L83.91 195.91 L85.04 196.10 L86.18 196.30 L87.31 196.48 L88.45 196.66 L89.58 196.86 L90.72 197.07 L91.85 197.29 L92.99 197.53 L94.12 197.77 L95.26 198.01 L96.39 198.26 L97.53 198.52 L98.66 198.77 L99.80 199.01 L100.93 199.26 L102.07 199.51 L103.20 199.77 L104.34 200.04 L105.47 200.30 L106.61 200.56 L107.74 200.82 L108.88 201.08 L110.01 201.32 L111.14 201.55 L112.28 201.77 L113.41 201.97 L114.55 202.16 L115.68 202.35 L116.82 202.54 L117.95 202.74 L119.09 202.93 L120.22 203.14 L121.36 203.37 L122.49 203.61 L123.63 203.88 L124.76 204.17 L125.90 204.49 L127.03 204.86 L128.17 205.27 L129.30 205.74 L130.44 206.27 L131.57 206.84 L132.71 207.46 L133.84 208.14 L134.98 208.87 L136.11 209.65 L137.25 210.50 L138.38 211.47 L139.52 212.59 L140.65 213.92 L141.79 215.48 L142.92 217.32 L144.06 220.22 L145.19 223.97 L146.33 227.69 L145.19 227.07 L144.06 226.44 L142.92 225.80 L141.79 225.17 L140.65 224.55 L139.52 223.94 L138.38 223.35 L137.25 222.79 L136.11 222.23 L134.98 221.67 L133.84 221.11 L132.71 220.57 L131.57 220.03 L130.44 219.52 L129.30 219.03 L128.17 218.57 L127.03 218.15 L125.90 217.76 L124.76 217.40 L123.63 217.06 L122.49 216.74 L121.36 216.44 L120.22 216.15 L119.09 215.87 L117.95 215.60 L116.82 215.34 L115.68 215.09 L114.55 214.84 L113.41 214.59 L112.28 214.35 L111.14 214.10 L110.01 213.85 L108.88 213.59 L107.74 213.33 L106.61 213.06 L105.47 212.80 L104.34 212.55 L103.20 212.32 L102.07 212.10 L100.93 211.90 L99.80 211.73 L98.66 211.58 L97.53 211.44 L96.39 211.31 L95.26 211.19 L94.12 211.08 L92.99 210.97 L91.85 210.87 L90.72 210.78 L89.58 210.68 L88.45 210.58 L87.31 210.49 L86.18 210.38 L85.04 210.28 L83.91 210.17 L82.77 210.05 L81.64 209.92 L80.50 209.79 L79.37 209.64 L78.23 209.48 L77.10 209.32 L75.96 209.15 L74.83 208.97 L73.69 208.80 L72.56 208.62 L71.42 208.44 L70.29 208.26 L69.15 208.09 L68.02 207.92 L66.88 207.75 L65.75 207.58 L64.61 207.41 L63.48 207.24 L62.34 207.08 L61.21 206.91 L60.07 206.74 L58.94 206.57 L57.80 206.40 L56.67 206.23 L55.54 206.07 L54.40 205.90 L53.27 205.75 L52.13 205.60 L51.00 205.46 L49.86 205.32 L48.73 205.17 L47.59 205.01 L46.46 204.85 L45.32 204.67 L44.19 204.47 L43.05 204.26 L41.92 204.03 L40.78 203.79 L39.65 203.51 L38.51 203.17 L37.38 202.75 L36.24 202.20 L35.11 201.43 L33.97 199.86 L32.84 193.50Z" stroke="#222222" stroke-width="1.25" fill="none" stroke-linejoin="round"/>
<path d="M32.84 193.36 L34.26 193.54 L35.67 193.72 L37.09 193.90 L38.51 194.08 L39.93 194.25 L41.35 194.42 L42.77 194.58 L44.19 194.74 L45.60 194.92 L47.02 195.10 L48.44 195.28 L49.86 195.45 L51.28 195.59 L52.70 195.71 L54.12 195.78 L55.54 195.81 L56.95 195.81 L58.37 195.81 L59.79 195.81 L61.21 195.81 L62.63 195.81 L64.05 195.81 L65.47 195.81 L66.88 195.81 L68.30 195.81 L69.72 195.76 L71.14 195.63 L72.56 195.46 L73.98 195.28 L75.40 195.10 L76.81 194.98 L78.23 194.93 L79.65 194.97 L81.07 195.06 L82.49 195.20 L83.91 195.37 L85.33 195.55 L86.74 195.73 L88.16 195.89 L89.58 196.06 L91.00 196.24 L92.42 196.43 L93.84 196.63 L95.26 196.83 L96.67 197.02 L98.09 197.20 L99.51 197.38 L100.93 197.54 L102.35 197.69 L103.77 197.84 L105.19 197.98 L106.61 198.12 L108.02 198.26 L109.44 198.39 L110.86 198.53 L112.28 198.65 L113.70 198.77 L115.12 198.87 L116.54 198.97 L117.95 199.07 L119.37 199.17 L120.79 199.27 L122.21 199.37 L123.63 199.48 L125.05 199.59 L126.47 199.72 L127.88 199.86 L129.30 200.01 L130.72 200.18 L132.14 200.36 L133.56 200.57 L134.98 200.83 L136.40 201.17 L137.81 201.58 L139.23 202.07 L140.65 202.61 L142.07 203.21 L143.49 203.85 L144.91 204.53 L146.33 205.25 L147.75 206.00 L149.16 206.76 L150.58 207.59 L152.00 208.52 L153.42 209.56 L154.84 210.68 L156.26 211.89 L157.68 213.18 L159.09 214.54 L160.51 215.96 L161.93 217.44 L163.35 219.11 L164.77 220.96 L166.19 222.95 L167.61 225.03 L169.02 227.16 L170.44 229.35 L171.86 231.68 L173.28 234.09 L174.70 236.47 L173.28 235.18 L171.86 233.82 L170.44 232.43 L169.02 231.05 L167.61 229.72 L166.19 228.49 L164.77 227.39 L163.35 226.47 L161.93 225.70 L160.51 225.01 L159.09 224.36 L157.68 223.76 L156.26 223.21 L154.84 222.69 L153.42 222.20 L152.00 221.73 L150.58 221.29 L149.16 220.85 L147.75 220.44 L146.33 220.04 L144.91 219.65 L143.49 219.29 L142.07 218.94 L140.65 218.60 L139.23 218.27 L137.81 217.96 L136.40 217.65 L134.98 217.35 L133.56 217.06 L132.14 216.78 L130.72 216.50 L129.30 216.23 L127.88 215.97 L126.47 215.71 L125.05 215.45 L123.63 215.20 L122.21 214.96 L120.79 214.72 L119.37 214.49 L117.95 214.26 L116.54 214.04 L115.12 213.82 L113.70 213.60 L112.28 213.39 L110.86 213.18 L109.44 212.97 L108.02 212.77 L106.61 212.58 L105.19 212.39 L103.77 212.21 L102.35 212.03 L100.93 211.87 L99.51 211.70 L98.09 211.55 L96.67 211.40 L95.26 211.26 L93.84 211.13 L92.42 210.99 L91.00 210.86 L89.58 210.73 L88.16 210.60 L86.74 210.47 L85.33 210.33 L83.91 210.18 L82.49 210.02 L81.07 209.86 L79.65 209.68 L78.23 209.48 L76.81 209.28 L75.40 209.06 L73.98 208.84 L72.56 208.62 L71.14 208.40 L69.72 208.18 L68.30 207.96 L66.88 207.75 L65.47 207.54 L64.05 207.33 L62.63 207.12 L61.21 206.91 L59.79 206.70 L58.37 206.49 L56.95 206.28 L55.54 206.07 L54.12 205.87 L52.70 205.68 L51.28 205.50 L49.86 205.32 L48.44 205.13 L47.02 204.93 L45.60 204.71 L44.19 204.47 L42.77 204.20 L41.35 203.91 L39.93 203.59 L38.51 203.17 L37.09 202.62 L35.67 201.87 L34.26 200.37 L32.84 193.36Z" stroke="#2a9292" stroke-width="1.25" fill="none" stroke-linejoin="round"/>
<path d="M32.84 193.36 L34.11 193.52 L35.39 193.68 L36.67 193.84 L37.94 194.00 L39.22 194.16 L40.50 194.32 L41.77 194.46 L43.05 194.61 L44.33 194.76 L45.60 194.93 L46.88 195.10 L48.16 195.27 L49.44 195.43 L50.71 195.57 L51.99 195.69 L53.27 195.79 L54.54 195.84 L55.82 195.85 L57.10 195.85 L58.37 195.85 L59.65 195.85 L60.93 195.85 L62.20 195.85 L63.48 195.85 L64.76 195.85 L66.03 195.85 L67.31 195.85 L68.59 195.85 L69.86 195.81 L71.14 195.71 L72.42 195.58 L73.69 195.44 L74.97 195.30 L76.25 195.19 L77.52 195.13 L78.80 195.12 L80.08 195.17 L81.35 195.27 L82.63 195.41 L83.91 195.57 L85.18 195.74 L86.46 195.91 L87.74 196.07 L89.01 196.25 L90.29 196.43 L91.57 196.63 L92.84 196.85 L94.12 197.07 L95.40 197.29 L96.67 197.52 L97.95 197.76 L99.23 197.99 L100.51 198.22 L101.78 198.47 L103.06 198.73 L104.34 199.00 L105.61 199.26 L106.89 199.52 L108.17 199.76 L109.44 199.98 L110.72 200.17 L112.00 200.35 L113.27 200.50 L114.55 200.64 L115.83 200.77 L117.10 200.90 L118.38 201.01 L119.66 201.12 L120.93 201.24 L122.21 201.35 L123.49 201.47 L124.76 201.59 L126.04 201.72 L127.32 201.87 L128.59 202.03 L129.87 202.20 L131.15 202.40 L132.42 202.62 L133.70 202.86 L134.98 203.16 L136.25 203.55 L137.53 204.00 L138.81 204.52 L140.08 205.11 L141.36 205.75 L142.64 206.44 L143.91 207.18 L145.19 207.96 L146.47 208.78 L147.75 209.63 L149.02 210.50 L150.30 211.41 L151.58 212.41 L152.85 213.53 L154.13 214.82 L155.41 216.31 L156.68 218.03 L157.96 220.38 L159.24 223.68 L160.51 227.05 L159.24 226.50 L157.96 225.95 L156.68 225.38 L155.41 224.81 L154.13 224.26 L152.85 223.72 L151.58 223.20 L150.30 222.72 L149.02 222.29 L147.75 221.88 L146.47 221.48 L145.19 221.11 L143.91 220.75 L142.64 220.40 L141.36 220.06 L140.08 219.73 L138.81 219.41 L137.53 219.10 L136.25 218.80 L134.98 218.50 L133.70 218.21 L132.42 217.92 L131.15 217.63 L129.87 217.35 L128.59 217.08 L127.32 216.82 L126.04 216.56 L124.76 216.30 L123.49 216.05 L122.21 215.80 L120.93 215.55 L119.66 215.31 L118.38 215.07 L117.10 214.83 L115.83 214.59 L114.55 214.35 L113.27 214.12 L112.00 213.88 L110.72 213.65 L109.44 213.41 L108.17 213.17 L106.89 212.93 L105.61 212.69 L104.34 212.45 L103.06 212.23 L101.78 212.02 L100.51 211.83 L99.23 211.66 L97.95 211.51 L96.67 211.36 L95.40 211.23 L94.12 211.11 L92.84 210.99 L91.57 210.87 L90.29 210.76 L89.01 210.65 L87.74 210.54 L86.46 210.42 L85.18 210.30 L83.91 210.17 L82.63 210.04 L81.35 209.89 L80.08 209.73 L78.80 209.56 L77.52 209.38 L76.25 209.19 L74.97 209.00 L73.69 208.80 L72.42 208.60 L71.14 208.40 L69.86 208.20 L68.59 208.00 L67.31 207.81 L66.03 207.62 L64.76 207.43 L63.48 207.24 L62.20 207.05 L60.93 206.87 L59.65 206.68 L58.37 206.49 L57.10 206.30 L55.82 206.11 L54.54 205.92 L53.27 205.75 L51.99 205.59 L50.71 205.42 L49.44 205.26 L48.16 205.09 L46.88 204.91 L45.60 204.71 L44.33 204.50 L43.05 204.26 L41.77 204.00 L40.50 203.72 L39.22 203.39 L37.94 202.97 L36.67 202.42 L35.39 201.67 L34.11 200.13 L32.84 193.36Z" stroke="#2a2ae2" stroke-width="1.25" fill="none" stroke-linejoin="round"/>
<text x="120.80" y="213.55" font-size="7" font-family="Liberation Sans, sans-serif" fill="#222" stroke="#222" stroke-width="0.1">a</text>
<text x="133.30" y="214.95" font-size="7" font-family="Liberation Sans, sans-serif" fill="#222" stroke="#222" stroke-width="0.1">b</text>
<text x="150.90" y="219.16" font-size="7" font-family="Liberation Sans, sans-serif" fill="#222" stroke="#222" stroke-width="0.1">c</text>
<text x="162.50" y="221.25" font-size="7" font-family="Liberation Sans, sans-serif" fill="#222" stroke="#222" stroke-width="0.1">d</text>
<text transform="translate(13.00 199.30) rotate(-90)" x="0" y="2.94" font-size="8.2" text-anchor="middle" font-weight="bold" font-family="Liberation Sans, sans-serif" stroke="#000" stroke-width="0.45">Current (mA)</text>
<text x="106.60" y="278.88" font-size="8.6" text-anchor="middle" font-weight="bold" font-family="Liberation Sans, sans-serif" stroke="#000" stroke-width="0.45">Potential (V)</text>
<text x="12.50" y="282.00" font-size="16.8" font-weight="bold" font-family="Liberation Sans, sans-serif" stroke="#000" stroke-width="0.45">D</text>
<rect x="207.30" y="149.60" width="149.10" height="111.40" fill="none" stroke="#2a2a2a" stroke-width="1.2"/>
<path d="M214.80 261.00v-2.5 M248.12 261.00v-2.5 M281.43 261.00v-2.5 M314.75 261.00v-2.5 M348.07 261.00v-2.5 M231.46 261.00v-1.5 M264.77 261.00v-1.5 M298.09 261.00v-1.5 M331.41 261.00v-1.5 M207.30 261.00h2.5 M207.30 242.43h2.5 M207.30 223.87h2.5 M207.30 205.30h2.5 M207.30 186.73h2.5 M207.30 168.17h2.5 M207.30 149.60h2.5 M207.30 251.72h1.5 M207.30 233.15h1.5 M207.30 214.58h1.5 M207.30 196.02h1.5 M207.30 177.45h1.5 M207.30 158.88h1.5" stroke="#2a2a2a" stroke-width="1" fill="none"/>
<text x="214.80" y="270.33" font-size="7.9" text-anchor="middle" font-weight="bold" font-family="Liberation Sans, sans-serif" stroke="#000" stroke-width="0.45">0.0</text>
<text x="248.12" y="270.33" font-size="7.9" text-anchor="middle" font-weight="bold" font-family="Liberation Sans, sans-serif" stroke="#000" stroke-width="0.45">0.4</text>
<text x="281.43" y="270.33" font-size="7.9" text-anchor="middle" font-weight="bold" font-family="Liberation Sans, sans-serif" stroke="#000" stroke-width="0.45">0.8</text>
<text x="314.75" y="270.33" font-size="7.9" text-anchor="middle" font-weight="bold" font-family="Liberation Sans, sans-serif" stroke="#000" stroke-width="0.45">1.2</text>
<text x="348.07" y="270.33" font-size="7.9" text-anchor="middle" font-weight="bold" font-family="Liberation Sans, sans-serif" stroke="#000" stroke-width="0.45">1.6</text>
<text x="204.50" y="263.83" font-size="7.9" text-anchor="end" font-weight="bold" font-family="Liberation Sans, sans-serif" stroke="#000" stroke-width="0.45">-15</text>
<text x="204.50" y="245.26" font-size="7.9" text-anchor="end" font-weight="bold" font-family="Liberation Sans, sans-serif" stroke="#000" stroke-width="0.45">-10</text>
<text x="204.50" y="226.69" font-size="7.9" text-anchor="end" font-weight="bold" font-family="Liberation Sans, sans-serif" stroke="#000" stroke-width="0.45">-5</text>
<text x="204.50" y="208.13" font-size="7.9" text-anchor="end" font-weight="bold" font-family="Liberation Sans, sans-serif" stroke="#000" stroke-width="0.45">0</text>
<text x="204.50" y="189.56" font-size="7.9" text-anchor="end" font-weight="bold" font-family="Liberation Sans, sans-serif" stroke="#000" stroke-width="0.45">5</text>
<text x="204.50" y="170.99" font-size="7.9" text-anchor="end" font-weight="bold" font-family="Liberation Sans, sans-serif" stroke="#000" stroke-width="0.45">10</text>
<text x="204.50" y="152.43" font-size="7.9" text-anchor="end" font-weight="bold" font-family="Liberation Sans, sans-serif" stroke="#000" stroke-width="0.45">15</text>
<path d="M214.80 203.29 L216.13 203.30 L217.46 203.30 L218.79 203.30 L220.13 203.30 L221.46 203.30 L222.79 203.30 L224.13 203.30 L225.46 203.30 L226.79 203.30 L228.12 203.30 L229.46 203.30 L230.79 203.30 L232.12 203.30 L233.45 203.30 L234.79 203.30 L236.12 203.30 L237.45 203.30 L238.79 203.30 L240.12 203.30 L241.45 203.30 L242.78 203.30 L244.12 203.30 L245.45 203.30 L246.78 203.30 L248.12 203.30 L249.45 203.31 L250.78 203.31 L252.11 203.31 L253.45 203.31 L254.78 203.31 L256.11 203.31 L257.44 203.31 L258.78 203.31 L260.11 203.31 L261.44 203.31 L262.78 203.31 L264.11 203.31 L265.44 203.31 L266.77 203.31 L268.11 203.31 L269.44 203.31 L270.77 203.32 L272.10 203.32 L273.44 203.32 L274.77 203.32 L276.10 203.32 L277.44 203.32 L278.77 203.32 L280.10 203.32 L281.43 203.33 L282.77 203.33 L284.10 203.33 L285.43 203.33 L286.76 203.33 L288.10 203.33 L289.43 203.33 L290.76 203.34 L292.10 203.34 L293.43 203.34 L294.76 203.34 L296.09 203.35 L297.43 203.35 L298.76 203.36 L300.09 203.36 L301.42 203.37 L302.76 203.37 L304.09 203.38 L305.42 203.39 L306.76 203.40 L308.09 203.41 L309.42 203.42 L310.75 203.43 L312.09 203.45 L313.42 203.46 L314.75 203.48 L316.08 203.50 L317.42 203.53 L318.75 203.56 L320.08 203.59 L321.42 203.63 L322.75 203.67 L324.08 203.72 L325.41 203.77 L326.75 203.84 L328.08 203.91 L329.41 203.99 L330.74 204.09 L332.08 204.20 L333.41 204.33 L334.74 204.48 L336.08 204.65 L337.41 204.85 L338.74 205.08 L340.07 205.34 L341.41 205.64 L342.74 205.99 L344.07 206.39 L345.40 206.85 L346.74 207.39 L348.07 208.01 L346.74 207.85 L345.40 207.67 L344.07 207.49 L342.74 207.32 L341.41 207.16 L340.07 207.04 L338.74 206.95 L337.41 206.88 L336.08 206.82 L334.74 206.76 L333.41 206.71 L332.08 206.66 L330.74 206.61 L329.41 206.56 L328.08 206.52 L326.75 206.49 L325.41 206.45 L324.08 206.42 L322.75 206.39 L321.42 206.36 L320.08 206.33 L318.75 206.30 L317.42 206.28 L316.08 206.26 L314.75 206.23 L313.42 206.21 L312.09 206.19 L310.75 206.17 L309.42 206.16 L308.09 206.14 L306.76 206.12 L305.42 206.11 L304.09 206.09 L302.76 206.08 L301.42 206.06 L300.09 206.05 L298.76 206.04 L297.43 206.02 L296.09 206.01 L294.76 206.00 L293.43 205.98 L292.10 205.97 L290.76 205.96 L289.43 205.95 L288.10 205.94 L286.76 205.93 L285.43 205.92 L284.10 205.91 L282.77 205.90 L281.43 205.89 L280.10 205.87 L278.77 205.86 L277.44 205.85 L276.10 205.83 L274.77 205.82 L273.44 205.80 L272.10 205.78 L270.77 205.76 L269.44 205.74 L268.11 205.71 L266.77 205.69 L265.44 205.67 L264.11 205.64 L262.78 205.62 L261.44 205.59 L260.11 205.56 L258.78 205.53 L257.44 205.50 L256.11 205.47 L254.78 205.44 L253.45 205.41 L252.11 205.38 L250.78 205.35 L249.45 205.32 L248.12 205.29 L246.78 205.27 L245.45 205.25 L244.12 205.24 L242.78 205.22 L241.45 205.20 L240.12 205.18 L238.79 205.16 L237.45 205.14 L236.12 205.11 L234.79 205.08 L233.45 205.04 L232.12 205.00 L230.79 204.95 L229.46 204.89 L228.12 204.83 L226.79 204.75 L225.46 204.67 L224.13 204.58 L222.79 204.48 L221.46 204.34 L220.13 204.16 L218.79 203.95 L217.46 203.72 L216.13 203.50 L214.80 203.29Z" stroke="#222222" stroke-width="1.15" fill="none" stroke-linejoin="round"/>
<path d="M214.80 201.25 L216.13 201.26 L217.46 201.26 L218.79 201.26 L220.13 201.27 L221.46 201.27 L222.79 201.28 L224.13 201.28 L225.46 201.29 L226.79 201.29 L228.12 201.29 L229.46 201.30 L230.79 201.30 L232.12 201.30 L233.45 201.30 L234.79 201.31 L236.12 201.31 L237.45 201.31 L238.79 201.31 L240.12 201.31 L241.45 201.31 L242.78 201.31 L244.12 201.31 L245.45 201.31 L246.78 201.31 L248.12 201.31 L249.45 201.31 L250.78 201.32 L252.11 201.32 L253.45 201.32 L254.78 201.32 L256.11 201.32 L257.44 201.32 L258.78 201.33 L260.11 201.33 L261.44 201.34 L262.78 201.34 L264.11 201.35 L265.44 201.35 L266.77 201.36 L268.11 201.36 L269.44 201.37 L270.77 201.38 L272.10 201.38 L273.44 201.39 L274.77 201.40 L276.10 201.40 L277.44 201.41 L278.77 201.42 L280.10 201.42 L281.43 201.43 L282.77 201.43 L284.10 201.44 L285.43 201.44 L286.76 201.45 L288.10 201.46 L289.43 201.46 L290.76 201.47 L292.10 201.48 L293.43 201.49 L294.76 201.50 L296.09 201.51 L297.43 201.52 L298.76 201.54 L300.09 201.55 L301.42 201.57 L302.76 201.59 L304.09 201.61 L305.42 201.64 L306.76 201.66 L308.09 201.69 L309.42 201.72 L310.75 201.76 L312.09 201.80 L313.42 201.84 L314.75 201.89 L316.08 201.94 L317.42 202.00 L318.75 202.07 L320.08 202.15 L321.42 202.23 L322.75 202.33 L324.08 202.45 L325.41 202.57 L326.75 202.72 L328.08 202.89 L329.41 203.08 L330.74 203.30 L332.08 203.55 L333.41 203.84 L334.74 204.17 L336.08 204.54 L337.41 204.98 L338.74 205.48 L340.07 206.06 L341.41 206.73 L342.74 207.49 L344.07 208.38 L345.40 209.41 L346.74 210.61 L348.07 211.98 L346.74 211.61 L345.40 211.21 L344.07 210.80 L342.74 210.41 L341.41 210.05 L340.07 209.77 L338.74 209.57 L337.41 209.41 L336.08 209.27 L334.74 209.14 L333.41 209.02 L332.08 208.90 L330.74 208.79 L329.41 208.69 L328.08 208.60 L326.75 208.51 L325.41 208.43 L324.08 208.36 L322.75 208.29 L321.42 208.22 L320.08 208.16 L318.75 208.10 L317.42 208.05 L316.08 207.99 L314.75 207.94 L313.42 207.89 L312.09 207.85 L310.75 207.80 L309.42 207.76 L308.09 207.72 L306.76 207.69 L305.42 207.65 L304.09 207.62 L302.76 207.58 L301.42 207.55 L300.09 207.52 L298.76 207.49 L297.43 207.46 L296.09 207.43 L294.76 207.40 L293.43 207.37 L292.10 207.34 L290.76 207.32 L289.43 207.29 L288.10 207.27 L286.76 207.24 L285.43 207.22 L284.10 207.20 L282.77 207.17 L281.43 207.15 L280.10 207.12 L278.77 207.09 L277.44 207.06 L276.10 207.03 L274.77 206.99 L273.44 206.95 L272.10 206.90 L270.77 206.86 L269.44 206.81 L268.11 206.76 L266.77 206.70 L265.44 206.65 L264.11 206.59 L262.78 206.54 L261.44 206.48 L260.11 206.41 L258.78 206.35 L257.44 206.28 L256.11 206.20 L254.78 206.13 L253.45 206.06 L252.11 205.99 L250.78 205.92 L249.45 205.86 L248.12 205.80 L246.78 205.75 L245.45 205.71 L244.12 205.67 L242.78 205.63 L241.45 205.59 L240.12 205.54 L238.79 205.50 L237.45 205.45 L236.12 205.39 L234.79 205.32 L233.45 205.23 L232.12 205.13 L230.79 205.02 L229.46 204.89 L228.12 204.74 L226.79 204.57 L225.46 204.38 L224.13 204.18 L222.79 203.95 L221.46 203.63 L220.13 203.22 L218.79 202.74 L217.46 202.23 L216.13 201.72 L214.80 201.25Z" stroke="#e42a2a" stroke-width="1.15" fill="none" stroke-linejoin="round"/>
<path d="M214.80 199.21 L216.13 199.22 L217.46 199.23 L218.79 199.24 L220.13 199.25 L221.46 199.27 L222.79 199.28 L224.13 199.29 L225.46 199.30 L226.79 199.31 L228.12 199.32 L229.46 199.33 L230.79 199.34 L232.12 199.35 L233.45 199.35 L234.79 199.36 L236.12 199.36 L237.45 199.36 L238.79 199.37 L240.12 199.37 L241.45 199.37 L242.78 199.37 L244.12 199.37 L245.45 199.38 L246.78 199.38 L248.12 199.38 L249.45 199.38 L250.78 199.38 L252.11 199.39 L253.45 199.39 L254.78 199.39 L256.11 199.40 L257.44 199.40 L258.78 199.41 L260.11 199.43 L261.44 199.44 L262.78 199.45 L264.11 199.47 L265.44 199.48 L266.77 199.50 L268.11 199.52 L269.44 199.53 L270.77 199.55 L272.10 199.57 L273.44 199.59 L274.77 199.61 L276.10 199.63 L277.44 199.64 L278.77 199.66 L280.10 199.67 L281.43 199.68 L282.77 199.70 L284.10 199.71 L285.43 199.72 L286.76 199.74 L288.10 199.75 L289.43 199.77 L290.76 199.79 L292.10 199.81 L293.43 199.83 L294.76 199.85 L296.09 199.88 L297.43 199.90 L298.76 199.94 L300.09 199.97 L301.42 200.01 L302.76 200.05 L304.09 200.10 L305.42 200.14 L306.76 200.20 L308.09 200.25 L309.42 200.32 L310.75 200.38 L312.09 200.45 L313.42 200.53 L314.75 200.62 L316.08 200.71 L317.42 200.82 L318.75 200.93 L320.08 201.06 L321.42 201.20 L322.75 201.36 L324.08 201.54 L325.41 201.75 L326.75 201.98 L328.08 202.25 L329.41 202.55 L330.74 202.89 L332.08 203.28 L333.41 203.73 L334.74 204.24 L336.08 204.82 L337.41 205.49 L338.74 206.26 L340.07 207.14 L341.41 208.16 L342.74 209.33 L344.07 210.68 L345.40 212.28 L346.74 214.14 L348.07 216.25 L346.74 215.66 L345.40 215.02 L344.07 214.37 L342.74 213.75 L341.41 213.19 L340.07 212.73 L338.74 212.42 L337.41 212.17 L336.08 211.95 L334.74 211.74 L333.41 211.54 L332.08 211.36 L330.74 211.19 L329.41 211.03 L328.08 210.88 L326.75 210.74 L325.41 210.62 L324.08 210.50 L322.75 210.38 L321.42 210.28 L320.08 210.18 L318.75 210.09 L317.42 210.00 L316.08 209.91 L314.75 209.83 L313.42 209.76 L312.09 209.68 L310.75 209.61 L309.42 209.55 L308.09 209.49 L306.76 209.43 L305.42 209.37 L304.09 209.32 L302.76 209.27 L301.42 209.22 L300.09 209.17 L298.76 209.12 L297.43 209.07 L296.09 209.02 L294.76 208.97 L293.43 208.93 L292.10 208.88 L290.76 208.84 L289.43 208.80 L288.10 208.76 L286.76 208.73 L285.43 208.69 L284.10 208.65 L282.77 208.61 L281.43 208.57 L280.10 208.53 L278.77 208.48 L277.44 208.43 L276.10 208.38 L274.77 208.32 L273.44 208.26 L272.10 208.18 L270.77 208.11 L269.44 208.03 L268.11 207.95 L266.77 207.87 L265.44 207.78 L264.11 207.69 L262.78 207.60 L261.44 207.51 L260.11 207.41 L258.78 207.30 L257.44 207.19 L256.11 207.07 L254.78 206.96 L253.45 206.84 L252.11 206.73 L250.78 206.62 L249.45 206.53 L248.12 206.44 L246.78 206.36 L245.45 206.29 L244.12 206.22 L242.78 206.16 L241.45 206.10 L240.12 206.03 L238.79 205.95 L237.45 205.87 L236.12 205.77 L234.79 205.66 L233.45 205.53 L232.12 205.38 L230.79 205.19 L229.46 204.98 L228.12 204.75 L226.79 204.48 L225.46 204.18 L224.13 203.86 L222.79 203.50 L221.46 202.99 L220.13 202.33 L218.79 201.57 L217.46 200.76 L216.13 199.96 L214.80 199.21Z" stroke="#2a2ae2" stroke-width="1.15" fill="none" stroke-linejoin="round"/>
<path d="M214.80 196.02 L216.13 196.04 L217.46 196.08 L218.79 196.11 L220.13 196.14 L221.46 196.17 L222.79 196.20 L224.13 196.24 L225.46 196.27 L226.79 196.30 L228.12 196.33 L229.46 196.35 L230.79 196.38 L232.12 196.40 L233.45 196.41 L234.79 196.43 L236.12 196.44 L237.45 196.44 L238.79 196.45 L240.12 196.46 L241.45 196.46 L242.78 196.47 L244.12 196.47 L245.45 196.48 L246.78 196.48 L248.12 196.48 L249.45 196.49 L250.78 196.50 L252.11 196.50 L253.45 196.51 L254.78 196.52 L256.11 196.53 L257.44 196.55 L258.78 196.58 L260.11 196.61 L261.44 196.65 L262.78 196.68 L264.11 196.72 L265.44 196.77 L266.77 196.81 L268.11 196.86 L269.44 196.91 L270.77 196.96 L272.10 197.02 L273.44 197.07 L274.77 197.11 L276.10 197.16 L277.44 197.20 L278.77 197.24 L280.10 197.28 L281.43 197.31 L282.77 197.35 L284.10 197.38 L285.43 197.42 L286.76 197.45 L288.10 197.49 L289.43 197.53 L290.76 197.57 L292.10 197.62 L293.43 197.67 L294.76 197.72 L296.09 197.79 L297.43 197.85 L298.76 197.93 L300.09 198.01 L301.42 198.10 L302.76 198.19 L304.09 198.29 L305.42 198.40 L306.76 198.51 L308.09 198.64 L309.42 198.76 L310.75 198.90 L312.09 199.04 L313.42 199.20 L314.75 199.36 L316.08 199.53 L317.42 199.72 L318.75 199.92 L320.08 200.14 L321.42 200.39 L322.75 200.65 L324.08 200.95 L325.41 201.28 L326.75 201.65 L328.08 202.07 L329.41 202.54 L330.74 203.08 L332.08 203.68 L333.41 204.36 L334.74 205.13 L336.08 206.01 L337.41 207.01 L338.74 208.15 L340.07 209.46 L341.41 210.97 L342.74 212.70 L344.07 214.70 L345.40 217.11 L346.74 219.95 L348.07 223.12 L346.74 222.18 L345.40 221.17 L344.07 220.13 L342.74 219.14 L341.41 218.25 L340.07 217.52 L338.74 217.02 L337.41 216.63 L336.08 216.27 L334.74 215.94 L333.41 215.63 L332.08 215.33 L330.74 215.06 L329.41 214.81 L328.08 214.58 L326.75 214.36 L325.41 214.16 L324.08 213.97 L322.75 213.79 L321.42 213.62 L320.08 213.47 L318.75 213.32 L317.42 213.18 L316.08 213.04 L314.75 212.91 L313.42 212.79 L312.09 212.67 L310.75 212.56 L309.42 212.46 L308.09 212.36 L306.76 212.27 L305.42 212.18 L304.09 212.09 L302.76 212.01 L301.42 211.93 L300.09 211.85 L298.76 211.77 L297.43 211.70 L296.09 211.62 L294.76 211.54 L293.43 211.47 L292.10 211.40 L290.76 211.33 L289.43 211.27 L288.10 211.21 L286.76 211.15 L285.43 211.09 L284.10 211.03 L282.77 210.97 L281.43 210.91 L280.10 210.84 L278.77 210.77 L277.44 210.69 L276.10 210.60 L274.77 210.51 L273.44 210.40 L272.10 210.29 L270.77 210.17 L269.44 210.05 L268.11 209.92 L266.77 209.78 L265.44 209.64 L264.11 209.50 L262.78 209.36 L261.44 209.21 L260.11 209.05 L258.78 208.88 L257.44 208.70 L256.11 208.52 L254.78 208.34 L253.45 208.15 L252.11 207.98 L250.78 207.81 L249.45 207.65 L248.12 207.51 L246.78 207.39 L245.45 207.27 L244.12 207.17 L242.78 207.07 L241.45 206.97 L240.12 206.86 L238.79 206.74 L237.45 206.61 L236.12 206.46 L234.79 206.28 L233.45 206.07 L232.12 205.82 L230.79 205.53 L229.46 205.20 L228.12 204.82 L226.79 204.40 L225.46 203.93 L224.13 203.41 L222.79 202.84 L221.46 202.03 L220.13 200.98 L218.79 199.77 L217.46 198.48 L216.13 197.20 L214.80 196.02Z" stroke="#2a9292" stroke-width="1.15" fill="none" stroke-linejoin="round"/>
<path d="M214.80 192.49 L216.13 192.55 L217.46 192.62 L218.79 192.69 L220.13 192.76 L221.46 192.83 L222.79 192.90 L224.13 192.97 L225.46 193.04 L226.79 193.11 L228.12 193.17 L229.46 193.23 L230.79 193.28 L232.12 193.33 L233.45 193.36 L234.79 193.39 L236.12 193.41 L237.45 193.43 L238.79 193.45 L240.12 193.46 L241.45 193.47 L242.78 193.48 L244.12 193.49 L245.45 193.50 L246.78 193.51 L248.12 193.52 L249.45 193.53 L250.78 193.54 L252.11 193.56 L253.45 193.58 L254.78 193.60 L256.11 193.63 L257.44 193.67 L258.78 193.73 L260.11 193.80 L261.44 193.88 L262.78 193.96 L264.11 194.04 L265.44 194.14 L266.77 194.24 L268.11 194.35 L269.44 194.46 L270.77 194.57 L272.10 194.68 L273.44 194.79 L274.77 194.90 L276.10 195.00 L277.44 195.09 L278.77 195.17 L280.10 195.25 L281.43 195.33 L282.77 195.40 L284.10 195.47 L285.43 195.55 L286.76 195.62 L288.10 195.70 L289.43 195.78 L290.76 195.87 L292.10 195.96 L293.43 196.07 L294.76 196.18 L296.09 196.31 L297.43 196.44 L298.76 196.60 L300.09 196.76 L301.42 196.93 L302.76 197.12 L304.09 197.32 L305.42 197.52 L306.76 197.74 L308.09 197.97 L309.42 198.21 L310.75 198.45 L312.09 198.71 L313.42 198.98 L314.75 199.26 L316.08 199.56 L317.42 199.86 L318.75 200.19 L320.08 200.53 L321.42 200.91 L322.75 201.31 L324.08 201.76 L325.41 202.24 L326.75 202.78 L328.08 203.37 L329.41 204.04 L330.74 204.78 L332.08 205.60 L333.41 206.53 L334.74 207.55 L336.08 208.71 L337.41 210.03 L338.74 211.53 L340.07 213.24 L341.41 215.20 L342.74 217.44 L344.07 220.02 L345.40 223.23 L346.74 227.08 L348.07 231.29 L346.74 229.95 L345.40 228.49 L344.07 227.01 L342.74 225.59 L341.41 224.31 L340.07 223.28 L338.74 222.56 L337.41 222.00 L336.08 221.49 L334.74 221.01 L333.41 220.56 L332.08 220.14 L330.74 219.75 L329.41 219.39 L328.08 219.06 L326.75 218.75 L325.41 218.45 L324.08 218.18 L322.75 217.93 L321.42 217.69 L320.08 217.47 L318.75 217.26 L317.42 217.05 L316.08 216.86 L314.75 216.67 L313.42 216.50 L312.09 216.33 L310.75 216.18 L309.42 216.03 L308.09 215.89 L306.76 215.75 L305.42 215.63 L304.09 215.50 L302.76 215.38 L301.42 215.27 L300.09 215.16 L298.76 215.05 L297.43 214.94 L296.09 214.83 L294.76 214.72 L293.43 214.61 L292.10 214.51 L290.76 214.42 L289.43 214.33 L288.10 214.24 L286.76 214.16 L285.43 214.07 L284.10 213.99 L282.77 213.90 L281.43 213.81 L280.10 213.71 L278.77 213.60 L277.44 213.49 L276.10 213.37 L274.77 213.23 L273.44 213.08 L272.10 212.92 L270.77 212.75 L269.44 212.57 L268.11 212.39 L266.77 212.20 L265.44 212.00 L264.11 211.80 L262.78 211.59 L261.44 211.38 L260.11 211.15 L258.78 210.91 L257.44 210.65 L256.11 210.39 L254.78 210.13 L253.45 209.86 L252.11 209.61 L250.78 209.37 L249.45 209.14 L248.12 208.94 L246.78 208.76 L245.45 208.60 L244.12 208.45 L242.78 208.31 L241.45 208.16 L240.12 208.01 L238.79 207.84 L237.45 207.65 L236.12 207.43 L234.79 207.18 L233.45 206.88 L232.12 206.53 L230.79 206.11 L229.46 205.63 L228.12 205.09 L226.79 204.49 L225.46 203.81 L224.13 203.07 L222.79 202.25 L221.46 201.09 L220.13 199.59 L218.79 197.86 L217.46 196.02 L216.13 194.19 L214.80 192.49Z" stroke="#dd22dd" stroke-width="1.15" fill="none" stroke-linejoin="round"/>
<path d="M214.80 187.70 L216.13 187.81 L217.46 187.93 L218.79 188.06 L220.13 188.19 L221.46 188.32 L222.79 188.45 L224.13 188.58 L225.46 188.71 L226.79 188.83 L228.12 188.94 L229.46 189.05 L230.79 189.14 L232.12 189.23 L233.45 189.29 L234.79 189.34 L236.12 189.38 L237.45 189.42 L238.79 189.45 L240.12 189.47 L241.45 189.49 L242.78 189.51 L244.12 189.53 L245.45 189.54 L246.78 189.56 L248.12 189.58 L249.45 189.60 L250.78 189.63 L252.11 189.65 L253.45 189.69 L254.78 189.73 L256.11 189.78 L257.44 189.86 L258.78 189.97 L260.11 190.10 L261.44 190.23 L262.78 190.37 L264.11 190.53 L265.44 190.70 L266.77 190.89 L268.11 191.09 L269.44 191.29 L270.77 191.49 L272.10 191.70 L273.44 191.90 L274.77 192.09 L276.10 192.27 L277.44 192.43 L278.77 192.58 L280.10 192.73 L281.43 192.86 L282.77 192.99 L284.10 193.13 L285.43 193.26 L286.76 193.39 L288.10 193.53 L289.43 193.67 L290.76 193.83 L292.10 194.00 L293.43 194.18 L294.76 194.38 L296.09 194.59 L297.43 194.83 L298.76 195.10 L300.09 195.38 L301.42 195.68 L302.76 196.00 L304.09 196.33 L305.42 196.69 L306.76 197.05 L308.09 197.43 L309.42 197.82 L310.75 198.23 L312.09 198.64 L313.42 199.07 L314.75 199.51 L316.08 199.96 L317.42 200.42 L318.75 200.90 L320.08 201.40 L321.42 201.93 L322.75 202.50 L324.08 203.10 L325.41 203.76 L326.75 204.47 L328.08 205.25 L329.41 206.10 L330.74 207.04 L332.08 208.07 L333.41 209.21 L334.74 210.46 L336.08 211.84 L337.41 213.40 L338.74 215.16 L340.07 217.17 L341.41 219.45 L342.74 222.06 L344.07 225.04 L345.40 228.93 L346.74 233.66 L348.07 238.72 L346.74 236.95 L345.40 235.03 L344.07 233.08 L342.74 231.22 L341.41 229.54 L340.07 228.18 L338.74 227.23 L337.41 226.51 L336.08 225.83 L334.74 225.20 L333.41 224.61 L332.08 224.06 L330.74 223.55 L329.41 223.07 L328.08 222.63 L326.75 222.22 L325.41 221.84 L324.08 221.48 L322.75 221.15 L321.42 220.84 L320.08 220.54 L318.75 220.26 L317.42 220.00 L316.08 219.74 L314.75 219.50 L313.42 219.27 L312.09 219.05 L310.75 218.84 L309.42 218.65 L308.09 218.46 L306.76 218.29 L305.42 218.12 L304.09 217.96 L302.76 217.80 L301.42 217.65 L300.09 217.50 L298.76 217.36 L297.43 217.21 L296.09 217.07 L294.76 216.92 L293.43 216.78 L292.10 216.65 L290.76 216.53 L289.43 216.41 L288.10 216.30 L286.76 216.19 L285.43 216.08 L284.10 215.97 L282.77 215.85 L281.43 215.73 L280.10 215.60 L278.77 215.46 L277.44 215.31 L276.10 215.15 L274.77 214.97 L273.44 214.77 L272.10 214.56 L270.77 214.34 L269.44 214.11 L268.11 213.86 L266.77 213.61 L265.44 213.35 L264.11 213.08 L262.78 212.82 L261.44 212.54 L260.11 212.24 L258.78 211.92 L257.44 211.58 L256.11 211.23 L254.78 210.89 L253.45 210.54 L252.11 210.21 L250.78 209.89 L249.45 209.60 L248.12 209.33 L246.78 209.10 L245.45 208.89 L244.12 208.69 L242.78 208.50 L241.45 208.31 L240.12 208.11 L238.79 207.88 L237.45 207.63 L236.12 207.35 L234.79 207.02 L233.45 206.62 L232.12 206.15 L230.79 205.61 L229.46 204.98 L228.12 204.27 L226.79 203.47 L225.46 202.59 L224.13 201.62 L222.79 200.53 L221.46 199.01 L220.13 197.03 L218.79 194.76 L217.46 192.34 L216.13 189.94 L214.80 187.70Z" stroke="#9a9a20" stroke-width="1.15" fill="none" stroke-linejoin="round"/>
<path d="M214.80 182.09 L216.13 182.28 L217.46 182.49 L218.79 182.70 L220.13 182.92 L221.46 183.15 L222.79 183.37 L224.13 183.59 L225.46 183.80 L226.79 184.01 L228.12 184.20 L229.46 184.38 L230.79 184.54 L232.12 184.67 L233.45 184.79 L234.79 184.88 L236.12 184.94 L237.45 185.00 L238.79 185.05 L240.12 185.09 L241.45 185.12 L242.78 185.15 L244.12 185.18 L245.45 185.21 L246.78 185.24 L248.12 185.27 L249.45 185.31 L250.78 185.35 L252.11 185.40 L253.45 185.46 L254.78 185.52 L256.11 185.61 L257.44 185.74 L258.78 185.93 L260.11 186.15 L261.44 186.38 L262.78 186.62 L264.11 186.88 L265.44 187.17 L266.77 187.49 L268.11 187.82 L269.44 188.16 L270.77 188.51 L272.10 188.85 L273.44 189.19 L274.77 189.51 L276.10 189.81 L277.44 190.09 L278.77 190.34 L280.10 190.58 L281.43 190.81 L282.77 191.03 L284.10 191.25 L285.43 191.47 L286.76 191.69 L288.10 191.92 L289.43 192.16 L290.76 192.42 L292.10 192.69 L293.43 192.99 L294.76 193.32 L296.09 193.68 L297.43 194.07 L298.76 194.50 L300.09 194.96 L301.42 195.45 L302.76 195.97 L304.09 196.51 L305.42 197.07 L306.76 197.66 L308.09 198.26 L309.42 198.88 L310.75 199.51 L312.09 200.15 L313.42 200.81 L314.75 201.47 L316.08 202.14 L317.42 202.81 L318.75 203.50 L320.08 204.21 L321.42 204.94 L322.75 205.70 L324.08 206.51 L325.41 207.37 L326.75 208.28 L328.08 209.26 L329.41 210.31 L330.74 211.45 L332.08 212.69 L333.41 214.01 L334.74 215.44 L336.08 216.99 L337.41 218.71 L338.74 220.64 L340.07 222.82 L341.41 225.28 L342.74 228.07 L344.07 231.25 L345.40 235.68 L346.74 241.20 L348.07 246.89 L346.74 244.64 L345.40 242.21 L344.07 239.73 L342.74 237.36 L341.41 235.23 L340.07 233.50 L338.74 232.30 L337.41 231.38 L336.08 230.52 L334.74 229.71 L333.41 228.96 L332.08 228.27 L330.74 227.62 L329.41 227.02 L328.08 226.46 L326.75 225.94 L325.41 225.45 L324.08 225.00 L322.75 224.57 L321.42 224.18 L320.08 223.80 L318.75 223.45 L317.42 223.11 L316.08 222.79 L314.75 222.48 L313.42 222.18 L312.09 221.91 L310.75 221.64 L309.42 221.40 L308.09 221.16 L306.76 220.94 L305.42 220.73 L304.09 220.52 L302.76 220.32 L301.42 220.13 L300.09 219.94 L298.76 219.76 L297.43 219.58 L296.09 219.39 L294.76 219.21 L293.43 219.03 L292.10 218.86 L290.76 218.71 L289.43 218.56 L288.10 218.42 L286.76 218.27 L285.43 218.13 L284.10 217.99 L282.77 217.84 L281.43 217.69 L280.10 217.52 L278.77 217.35 L277.44 217.16 L276.10 216.95 L274.77 216.73 L273.44 216.48 L272.10 216.21 L270.77 215.93 L269.44 215.63 L268.11 215.32 L266.77 215.00 L265.44 214.67 L264.11 214.33 L262.78 213.99 L261.44 213.64 L260.11 213.26 L258.78 212.85 L257.44 212.42 L256.11 211.98 L254.78 211.54 L253.45 211.11 L252.11 210.68 L250.78 210.28 L249.45 209.90 L248.12 209.57 L246.78 209.27 L245.45 209.00 L244.12 208.75 L242.78 208.51 L241.45 208.27 L240.12 208.01 L238.79 207.73 L237.45 207.41 L236.12 207.05 L234.79 206.63 L233.45 206.13 L232.12 205.53 L230.79 204.84 L229.46 204.04 L228.12 203.14 L226.79 202.12 L225.46 201.00 L224.13 199.77 L222.79 198.39 L221.46 196.46 L220.13 193.95 L218.79 191.06 L217.46 187.99 L216.13 184.93 L214.80 182.09Z" stroke="#3a3a9a" stroke-width="1.15" fill="none" stroke-linejoin="round"/>
<path d="M214.80 178.19 L216.13 178.47 L217.46 178.77 L218.79 179.07 L220.13 179.39 L221.46 179.71 L222.79 180.03 L224.13 180.35 L225.46 180.66 L226.79 180.95 L228.12 181.23 L229.46 181.49 L230.79 181.71 L232.12 181.91 L233.45 182.08 L234.79 182.20 L236.12 182.30 L237.45 182.38 L238.79 182.45 L240.12 182.51 L241.45 182.56 L242.78 182.60 L244.12 182.65 L245.45 182.69 L246.78 182.73 L248.12 182.78 L249.45 182.83 L250.78 182.89 L252.11 182.96 L253.45 183.04 L254.78 183.14 L256.11 183.26 L257.44 183.45 L258.78 183.72 L260.11 184.03 L261.44 184.37 L262.78 184.71 L264.11 185.09 L265.44 185.51 L266.77 185.96 L268.11 186.44 L269.44 186.93 L270.77 187.43 L272.10 187.93 L273.44 188.41 L274.77 188.87 L276.10 189.31 L277.44 189.70 L278.77 190.07 L280.10 190.41 L281.43 190.74 L282.77 191.06 L284.10 191.37 L285.43 191.68 L286.76 192.00 L288.10 192.32 L289.43 192.67 L290.76 193.03 L292.10 193.42 L293.43 193.85 L294.76 194.31 L296.09 194.82 L297.43 195.38 L298.76 195.98 L300.09 196.63 L301.42 197.33 L302.76 198.05 L304.09 198.81 L305.42 199.60 L306.76 200.42 L308.09 201.25 L309.42 202.11 L310.75 202.98 L312.09 203.86 L313.42 204.74 L314.75 205.63 L316.08 206.52 L317.42 207.41 L318.75 208.31 L320.08 209.21 L321.42 210.14 L322.75 211.09 L324.08 212.08 L325.41 213.12 L326.75 214.21 L328.08 215.35 L329.41 216.57 L330.74 217.86 L332.08 219.23 L333.41 220.68 L334.74 222.19 L336.08 223.81 L337.41 225.57 L338.74 227.53 L340.07 229.71 L341.41 232.16 L342.74 234.91 L344.07 238.03 L345.40 242.73 L346.74 248.74 L348.07 254.69 L346.74 252.04 L345.40 249.16 L344.07 246.24 L342.74 243.44 L341.41 240.93 L340.07 238.88 L338.74 237.46 L337.41 236.38 L336.08 235.36 L334.74 234.41 L333.41 233.53 L332.08 232.70 L330.74 231.94 L329.41 231.23 L328.08 230.57 L326.75 229.95 L325.41 229.38 L324.08 228.84 L322.75 228.34 L321.42 227.87 L320.08 227.43 L318.75 227.02 L317.42 226.62 L316.08 226.23 L314.75 225.87 L313.42 225.52 L312.09 225.19 L310.75 224.88 L309.42 224.59 L308.09 224.32 L306.76 224.05 L305.42 223.80 L304.09 223.56 L302.76 223.33 L301.42 223.10 L300.09 222.88 L298.76 222.66 L297.43 222.44 L296.09 222.23 L294.76 222.01 L293.43 221.80 L292.10 221.60 L290.76 221.42 L289.43 221.24 L288.10 221.07 L286.76 220.91 L285.43 220.74 L284.10 220.57 L282.77 220.40 L281.43 220.22 L280.10 220.02 L278.77 219.82 L277.44 219.59 L276.10 219.35 L274.77 219.08 L273.44 218.79 L272.10 218.47 L270.77 218.14 L269.44 217.79 L268.11 217.42 L266.77 217.04 L265.44 216.65 L264.11 216.25 L262.78 215.85 L261.44 215.43 L260.11 214.98 L258.78 214.50 L257.44 214.00 L256.11 213.48 L254.78 212.96 L253.45 212.44 L252.11 211.94 L250.78 211.47 L249.45 211.03 L248.12 210.63 L246.78 210.28 L245.45 209.96 L244.12 209.66 L242.78 209.38 L241.45 209.09 L240.12 208.79 L238.79 208.46 L237.45 208.08 L236.12 207.65 L234.79 207.16 L233.45 206.57 L232.12 205.86 L230.79 205.04 L229.46 204.10 L228.12 203.03 L226.79 201.84 L225.46 200.52 L224.13 199.06 L222.79 197.44 L221.46 195.15 L220.13 192.19 L218.79 188.78 L217.46 185.15 L216.13 181.55 L214.80 178.19Z" stroke="#902828" stroke-width="1.15" fill="none" stroke-linejoin="round"/>
<text x="349.50" y="210.60" font-size="7" font-family="Liberation Sans, sans-serif" fill="#222" stroke="#222" stroke-width="0.1">a</text>
<text x="349.50" y="218.10" font-size="7" font-family="Liberation Sans, sans-serif" fill="#222" stroke="#222" stroke-width="0.1">b</text>
<text x="349.50" y="224.85" font-size="7" font-family="Liberation Sans, sans-serif" fill="#222" stroke="#222" stroke-width="0.1">c</text>
<text x="349.50" y="233.85" font-size="7" font-family="Liberation Sans, sans-serif" fill="#222" stroke="#222" stroke-width="0.1">d</text>
<text x="349.50" y="240.60" font-size="7" font-family="Liberation Sans, sans-serif" fill="#222" stroke="#222" stroke-width="0.1">e</text>
<text x="349.50" y="248.85" font-size="7" font-family="Liberation Sans, sans-serif" fill="#222" stroke="#222" stroke-width="0.1">f</text>
<text x="349.50" y="256.36" font-size="7" font-family="Liberation Sans, sans-serif" fill="#222" stroke="#222" stroke-width="0.1">g</text>
<text transform="translate(192.20 200.00) rotate(-90)" x="0" y="2.94" font-size="8.2" text-anchor="middle" font-weight="bold" font-family="Liberation Sans, sans-serif" stroke="#000" stroke-width="0.45">Current (mA)</text>
<text x="284.50" y="278.88" font-size="8.6" text-anchor="middle" font-weight="bold" font-family="Liberation Sans, sans-serif" stroke="#000" stroke-width="0.45">Potential (V)</text>
<text x="193.00" y="282.00" font-size="16.8" font-weight="bold" font-family="Liberation Sans, sans-serif" stroke="#000" stroke-width="0.45">E</text>
<rect x="392.50" y="149.60" width="147.50" height="113.70" fill="none" stroke="#2a2a2a" stroke-width="1.2"/>
<path d="M392.50 263.30v-2.5 M422.00 263.30v-2.5 M451.50 263.30v-2.5 M481.00 263.30v-2.5 M510.50 263.30v-2.5 M540.00 263.30v-2.5 M407.25 263.30v-1.5 M436.75 263.30v-1.5 M466.25 263.30v-1.5 M495.75 263.30v-1.5 M525.25 263.30v-1.5 M392.50 263.30h2.5 M392.50 244.35h2.5 M392.50 225.40h2.5 M392.50 206.45h2.5 M392.50 187.50h2.5 M392.50 168.55h2.5 M392.50 149.60h2.5 M392.50 253.83h1.5 M392.50 234.88h1.5 M392.50 215.93h1.5 M392.50 196.97h1.5 M392.50 178.03h1.5 M392.50 159.07h1.5" stroke="#2a2a2a" stroke-width="1" fill="none"/>
<text x="392.50" y="273.13" font-size="7.9" text-anchor="middle" font-weight="bold" font-family="Liberation Sans, sans-serif" stroke="#000" stroke-width="0.45">0</text>
<text x="422.00" y="273.13" font-size="7.9" text-anchor="middle" font-weight="bold" font-family="Liberation Sans, sans-serif" stroke="#000" stroke-width="0.45">20</text>
<text x="451.50" y="273.13" font-size="7.9" text-anchor="middle" font-weight="bold" font-family="Liberation Sans, sans-serif" stroke="#000" stroke-width="0.45">40</text>
<text x="481.00" y="273.13" font-size="7.9" text-anchor="middle" font-weight="bold" font-family="Liberation Sans, sans-serif" stroke="#000" stroke-width="0.45">60</text>
<text x="510.50" y="273.13" font-size="7.9" text-anchor="middle" font-weight="bold" font-family="Liberation Sans, sans-serif" stroke="#000" stroke-width="0.45">80</text>
<text x="540.00" y="273.13" font-size="7.9" text-anchor="middle" font-weight="bold" font-family="Liberation Sans, sans-serif" stroke="#000" stroke-width="0.45">100</text>
<text x="389.70" y="266.13" font-size="7.9" text-anchor="end" font-weight="bold" font-family="Liberation Sans, sans-serif" stroke="#000" stroke-width="0.45">0</text>
<text x="389.70" y="247.18" font-size="7.9" text-anchor="end" font-weight="bold" font-family="Liberation Sans, sans-serif" stroke="#000" stroke-width="0.45">20</text>
<text x="389.70" y="228.23" font-size="7.9" text-anchor="end" font-weight="bold" font-family="Liberation Sans, sans-serif" stroke="#000" stroke-width="0.45">40</text>
<text x="389.70" y="209.28" font-size="7.9" text-anchor="end" font-weight="bold" font-family="Liberation Sans, sans-serif" stroke="#000" stroke-width="0.45">60</text>
<text x="389.70" y="190.33" font-size="7.9" text-anchor="end" font-weight="bold" font-family="Liberation Sans, sans-serif" stroke="#000" stroke-width="0.45">80</text>
<text x="389.70" y="171.38" font-size="7.9" text-anchor="end" font-weight="bold" font-family="Liberation Sans, sans-serif" stroke="#000" stroke-width="0.45">100</text>
<text x="389.70" y="152.43" font-size="7.9" text-anchor="end" font-weight="bold" font-family="Liberation Sans, sans-serif" stroke="#000" stroke-width="0.45">120</text>
<path d="M393.24 168.08 L395.45 169.97 L399.88 198.87 L407.25 208.34 L422.00 215.93 L451.50 222.84 L466.25 226.73 L481.00 226.35 L510.50 229.19 L540.00 232.03" stroke="#111" stroke-width="1.0" fill="none" stroke-linejoin="round"/>
<circle cx="395.45" cy="169.97" r="1.15" fill="#111"/>
<circle cx="399.88" cy="198.87" r="1.15" fill="#111"/>
<circle cx="407.25" cy="208.34" r="1.15" fill="#111"/>
<circle cx="422.00" cy="215.93" r="1.15" fill="#111"/>
<circle cx="451.50" cy="222.84" r="1.15" fill="#111"/>
<circle cx="466.25" cy="226.73" r="1.15" fill="#111"/>
<circle cx="481.00" cy="226.35" r="1.15" fill="#111"/>
<circle cx="510.50" cy="229.19" r="1.15" fill="#111"/>
<circle cx="540.00" cy="232.03" r="1.15" fill="#111"/>
<text transform="translate(371.30 198.50) rotate(-90)" x="0" y="2.94" font-size="8.2" text-anchor="middle" font-weight="bold" font-family="Liberation Sans, sans-serif" stroke="#000" stroke-width="0.45">Capacitance (F g<tspan font-size="5" dy="-3">-1</tspan><tspan dy="3">)</tspan></text>
<text x="466.00" y="282.18" font-size="8.6" text-anchor="middle" font-weight="bold" font-family="Liberation Sans, sans-serif" stroke="#000" stroke-width="0.45">Scan rate (mV s<tspan font-size="5" dy="-3">-1</tspan><tspan dy="3">)</tspan></text>
<text x="369.50" y="282.00" font-size="16.8" font-weight="bold" font-family="Liberation Sans, sans-serif" stroke="#000" stroke-width="0.45">F</text>
</svg></body></html>
